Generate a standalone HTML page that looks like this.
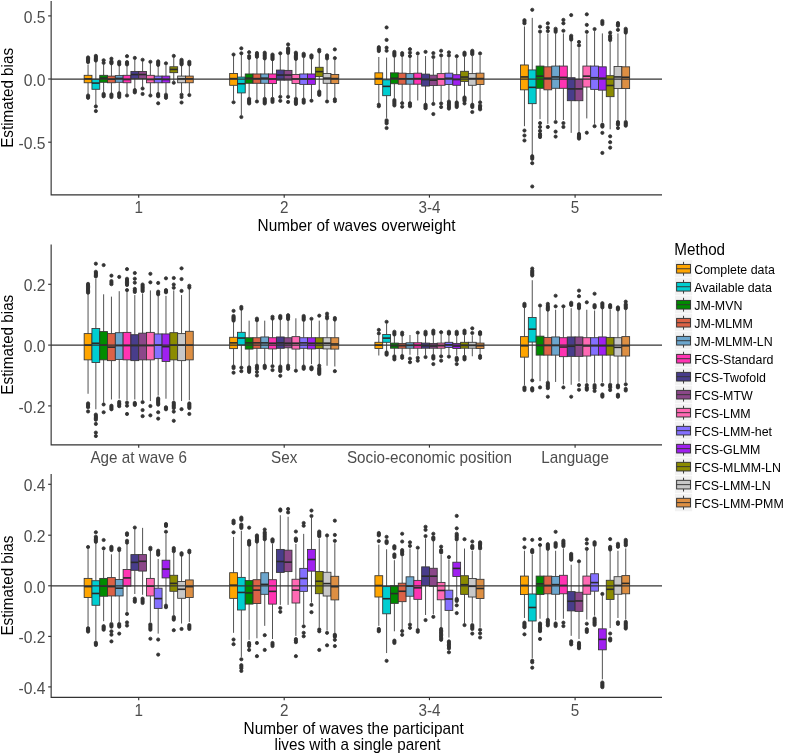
<!DOCTYPE html>
<html><head><meta charset="utf-8"><title>Estimated bias boxplots</title>
<style>
html,body{margin:0;padding:0;background:#fff}
svg{display:block}
text{font-family:"Liberation Sans",Arial,sans-serif}
.tk{font-size:16.6px;fill:#4d4d4d}
.ti{font-size:16.6px;fill:#000}
.lt{font-size:16.6px;fill:#000}
.lg{font-size:13.2px;fill:#000}
</style></head><body>
<svg width="785" height="755" viewBox="0 0 785 755">
<rect width="785" height="755" fill="#fff"/>
<g id="axes">
<path d="M51.15 1V194.85H662" fill="none" stroke="#333" stroke-width="1.15"/>
<path d="M48.15 15.9H51.15" stroke="#333" stroke-width="1.15"/>
<text transform="translate(45.5 22.8) scale(0.945 1)" text-anchor="end" class="tk">0.5</text>
<path d="M48.15 79H51.15" stroke="#333" stroke-width="1.15"/>
<text transform="translate(45.5 85.9) scale(0.945 1)" text-anchor="end" class="tk">0.0</text>
<path d="M48.15 142.2H51.15" stroke="#333" stroke-width="1.15"/>
<text transform="translate(45.5 149.1) scale(0.945 1)" text-anchor="end" class="tk">-0.5</text>
<path d="M138.7 194.85V197.65" stroke="#333" stroke-width="1.15"/>
<path d="M284.2 194.85V197.65" stroke="#333" stroke-width="1.15"/>
<path d="M429.45 194.85V197.65" stroke="#333" stroke-width="1.15"/>
<path d="M575.1 194.85V197.65" stroke="#333" stroke-width="1.15"/>
<text transform="translate(13 97.92) rotate(-90) scale(0.918 1)" text-anchor="middle" class="ti">Estimated bias</text>
<path d="M51.15 244.55V444.85H662" fill="none" stroke="#333" stroke-width="1.15"/>
<path d="M48.15 284.3H51.15" stroke="#333" stroke-width="1.15"/>
<text transform="translate(45.5 291.2) scale(0.945 1)" text-anchor="end" class="tk">0.2</text>
<path d="M48.15 345.1H51.15" stroke="#333" stroke-width="1.15"/>
<text transform="translate(45.5 352) scale(0.945 1)" text-anchor="end" class="tk">0.0</text>
<path d="M48.15 405.9H51.15" stroke="#333" stroke-width="1.15"/>
<text transform="translate(45.5 412.8) scale(0.945 1)" text-anchor="end" class="tk">-0.2</text>
<path d="M138.7 444.85V447.65" stroke="#333" stroke-width="1.15"/>
<path d="M284.2 444.85V447.65" stroke="#333" stroke-width="1.15"/>
<path d="M429.45 444.85V447.65" stroke="#333" stroke-width="1.15"/>
<path d="M575.1 444.85V447.65" stroke="#333" stroke-width="1.15"/>
<text transform="translate(13 344.7) rotate(-90) scale(0.918 1)" text-anchor="middle" class="ti">Estimated bias</text>
<path d="M51.15 473.9V697.4H662" fill="none" stroke="#333" stroke-width="1.15"/>
<path d="M48.15 484.3H51.15" stroke="#333" stroke-width="1.15"/>
<text transform="translate(45.5 491.2) scale(0.945 1)" text-anchor="end" class="tk">0.4</text>
<path d="M48.15 535.2H51.15" stroke="#333" stroke-width="1.15"/>
<text transform="translate(45.5 542.1) scale(0.945 1)" text-anchor="end" class="tk">0.2</text>
<path d="M48.15 585.8H51.15" stroke="#333" stroke-width="1.15"/>
<text transform="translate(45.5 592.7) scale(0.945 1)" text-anchor="end" class="tk">0.0</text>
<path d="M48.15 636.4H51.15" stroke="#333" stroke-width="1.15"/>
<text transform="translate(45.5 643.3) scale(0.945 1)" text-anchor="end" class="tk">-0.2</text>
<path d="M48.15 686.9H51.15" stroke="#333" stroke-width="1.15"/>
<text transform="translate(45.5 693.8) scale(0.945 1)" text-anchor="end" class="tk">-0.4</text>
<path d="M138.7 697.4V700.2" stroke="#333" stroke-width="1.15"/>
<path d="M284.2 697.4V700.2" stroke="#333" stroke-width="1.15"/>
<path d="M429.45 697.4V700.2" stroke="#333" stroke-width="1.15"/>
<path d="M575.1 697.4V700.2" stroke="#333" stroke-width="1.15"/>
<text transform="translate(13 585.65) rotate(-90) scale(0.918 1)" text-anchor="middle" class="ti">Estimated bias</text>
<text transform="translate(138.7 213.2) scale(0.918 1)" text-anchor="middle" class="tk">1</text>
<text transform="translate(138.7 715.6) scale(0.918 1)" text-anchor="middle" class="tk">1</text>
<text transform="translate(284.2 213.2) scale(0.918 1)" text-anchor="middle" class="tk">2</text>
<text transform="translate(284.2 715.6) scale(0.918 1)" text-anchor="middle" class="tk">2</text>
<text transform="translate(429.45 213.2) scale(0.918 1)" text-anchor="middle" class="tk">3-4</text>
<text transform="translate(429.45 715.6) scale(0.918 1)" text-anchor="middle" class="tk">3-4</text>
<text transform="translate(575.1 213.2) scale(0.918 1)" text-anchor="middle" class="tk">5</text>
<text transform="translate(575.1 715.6) scale(0.918 1)" text-anchor="middle" class="tk">5</text>
<text transform="translate(138.7 463.2) scale(0.918 1)" text-anchor="middle" class="tk">Age at wave 6</text>
<text transform="translate(284.2 463.2) scale(0.918 1)" text-anchor="middle" class="tk">Sex</text>
<text transform="translate(429.45 463.2) scale(0.918 1)" text-anchor="middle" class="tk">Socio-economic position</text>
<text transform="translate(575.1 463.2) scale(0.918 1)" text-anchor="middle" class="tk">Language</text>
<text transform="translate(356.57 231) scale(0.926 1)" text-anchor="middle" class="ti">Number of waves overweight</text>
<text transform="translate(353.7 733.5) scale(0.926 1)" text-anchor="middle" class="ti">Number of waves the participant</text>
<text transform="translate(357.5 749.7) scale(0.918 1)" text-anchor="middle" class="ti">lives with a single parent</text>
</g>
<g id="boxes" stroke="#333" stroke-width="0.85" fill="#333">
<circle cx="88.06" cy="57.43" r="1.6"/>
<circle cx="88.06" cy="58.6" r="1.6"/>
<circle cx="88.06" cy="59.77" r="1.6"/>
<circle cx="88.06" cy="60.93" r="1.6"/>
<circle cx="88.06" cy="62.1" r="1.6"/>
<circle cx="88.06" cy="95.51" r="1.6"/>
<circle cx="88.06" cy="96.68" r="1.6"/>
<circle cx="88.06" cy="97.84" r="1.6"/>
<path d="M88.06 64.43V75.31M88.06 82.77V94.42"/>
<rect x="84.16" y="75.31" width="7.79" height="7.46" fill="#FFA500"/>
<path d="M84.16 78.88H91.95" stroke="#2a2a2a" stroke-width="1.6"/>
<circle cx="95.85" cy="55.88" r="1.6"/>
<circle cx="95.85" cy="57.05" r="1.6"/>
<circle cx="95.85" cy="58.21" r="1.6"/>
<circle cx="95.85" cy="59.38" r="1.6"/>
<circle cx="95.85" cy="60.54" r="1.6"/>
<circle cx="95.85" cy="106.39" r="1.6"/>
<circle cx="95.85" cy="111.06" r="1.6"/>
<path d="M95.85 62.1V79.19M95.85 89.3V104.84"/>
<rect x="91.95" y="79.19" width="7.79" height="10.1" fill="#00CED1"/>
<path d="M91.95 83.08H99.74" stroke="#2a2a2a" stroke-width="1.6"/>
<circle cx="103.64" cy="60.23" r="1.6"/>
<circle cx="103.64" cy="62.87" r="1.6"/>
<circle cx="103.64" cy="93.96" r="1.6"/>
<circle cx="103.64" cy="95.12" r="1.6"/>
<circle cx="103.64" cy="96.29" r="1.6"/>
<path d="M103.64 64.43V75.31M103.64 82.3V92.4"/>
<rect x="99.74" y="75.31" width="7.79" height="6.99" fill="#008B00"/>
<path d="M99.74 78.11H107.53" stroke="#2a2a2a" stroke-width="1.6"/>
<circle cx="111.43" cy="58.68" r="1.6"/>
<circle cx="111.43" cy="61.32" r="1.6"/>
<circle cx="111.43" cy="62.33" r="1.6"/>
<circle cx="111.43" cy="63.34" r="1.6"/>
<circle cx="111.43" cy="94.42" r="1.6"/>
<circle cx="111.43" cy="95.75" r="1.6"/>
<circle cx="111.43" cy="97.07" r="1.6"/>
<path d="M111.43 64.43V76.08M111.43 82.77V93.18"/>
<rect x="107.53" y="76.08" width="7.79" height="6.68" fill="#DC6246"/>
<path d="M107.53 79.19H115.33" stroke="#2a2a2a" stroke-width="1.6"/>
<circle cx="119.22" cy="61.79" r="1.6"/>
<circle cx="119.22" cy="63.11" r="1.6"/>
<circle cx="119.22" cy="64.43" r="1.6"/>
<circle cx="119.22" cy="93.18" r="1.6"/>
<circle cx="119.22" cy="94.48" r="1.6"/>
<circle cx="119.22" cy="95.77" r="1.6"/>
<circle cx="119.22" cy="97.07" r="1.6"/>
<path d="M119.22 65.21V75.62M119.22 82.3V91.63"/>
<rect x="115.33" y="75.62" width="7.79" height="6.68" fill="#6CA6CD"/>
<path d="M115.33 78.42H123.12" stroke="#2a2a2a" stroke-width="1.6"/>
<circle cx="127.01" cy="56.19" r="1.6"/>
<circle cx="127.01" cy="62.1" r="1.6"/>
<circle cx="127.01" cy="63.26" r="1.6"/>
<circle cx="127.01" cy="64.43" r="1.6"/>
<circle cx="127.01" cy="95.51" r="1.6"/>
<path d="M127.01 65.21V75.31M127.01 82.77V93.96"/>
<rect x="123.12" y="75.31" width="7.79" height="7.46" fill="#FF34B3"/>
<path d="M123.12 79.5H130.91" stroke="#2a2a2a" stroke-width="1.6"/>
<circle cx="134.8" cy="57.9" r="1.6"/>
<circle cx="134.8" cy="90.07" r="1.6"/>
<circle cx="134.8" cy="91.24" r="1.6"/>
<circle cx="134.8" cy="92.4" r="1.6"/>
<path d="M134.8 59.77V71.42M134.8 78.42V89.3"/>
<rect x="130.91" y="71.42" width="7.79" height="6.99" fill="#483D8B"/>
<path d="M130.91 74.53H138.7" stroke="#2a2a2a" stroke-width="1.6"/>
<circle cx="142.6" cy="59.77" r="1.6"/>
<circle cx="142.6" cy="88.52" r="1.6"/>
<circle cx="142.6" cy="93.96" r="1.6"/>
<path d="M142.6 61.32V71.42M142.6 78.42V86.96"/>
<rect x="138.7" y="71.42" width="7.79" height="6.99" fill="#8B4789"/>
<path d="M138.7 74.53H146.49" stroke="#2a2a2a" stroke-width="1.6"/>
<circle cx="150.39" cy="61.79" r="1.6"/>
<circle cx="150.39" cy="95.51" r="1.6"/>
<path d="M150.39 63.34V75.31M150.39 82.77V93.96"/>
<rect x="146.49" y="75.31" width="7.79" height="7.46" fill="#FF69B4"/>
<path d="M146.49 79.5H154.28" stroke="#2a2a2a" stroke-width="1.6"/>
<circle cx="158.18" cy="61.32" r="1.6"/>
<circle cx="158.18" cy="62.51" r="1.6"/>
<circle cx="158.18" cy="63.7" r="1.6"/>
<circle cx="158.18" cy="64.89" r="1.6"/>
<circle cx="158.18" cy="93.96" r="1.6"/>
<circle cx="158.18" cy="95.12" r="1.6"/>
<circle cx="158.18" cy="96.29" r="1.6"/>
<circle cx="158.18" cy="103.28" r="1.6"/>
<path d="M158.18 65.98V76.08M158.18 82.77V92.4"/>
<rect x="154.28" y="76.08" width="7.79" height="6.68" fill="#8470FF"/>
<path d="M154.28 79.19H162.07" stroke="#2a2a2a" stroke-width="1.6"/>
<circle cx="165.97" cy="63.34" r="1.6"/>
<circle cx="165.97" cy="94.74" r="1.6"/>
<circle cx="165.97" cy="96.29" r="1.6"/>
<circle cx="165.97" cy="97.84" r="1.6"/>
<path d="M165.97 65.21V76.08M165.97 82.77V93.18"/>
<rect x="162.07" y="76.08" width="7.79" height="6.68" fill="#A020F0"/>
<path d="M162.07 79.5H169.87" stroke="#2a2a2a" stroke-width="1.6"/>
<circle cx="173.76" cy="55.88" r="1.6"/>
<circle cx="173.76" cy="82.77" r="1.6"/>
<path d="M173.76 57.43V66.76M173.76 72.67V81.06"/>
<rect x="169.87" y="66.76" width="7.79" height="5.91" fill="#8B8B00"/>
<path d="M169.87 69.4H177.66" stroke="#2a2a2a" stroke-width="1.6"/>
<circle cx="181.55" cy="59.77" r="1.6"/>
<circle cx="181.55" cy="60.93" r="1.6"/>
<circle cx="181.55" cy="62.1" r="1.6"/>
<circle cx="181.55" cy="63.26" r="1.6"/>
<circle cx="181.55" cy="64.43" r="1.6"/>
<circle cx="181.55" cy="94.74" r="1.6"/>
<circle cx="181.55" cy="97.07" r="1.6"/>
<circle cx="181.55" cy="102.51" r="1.6"/>
<path d="M181.55 65.21V76.08M181.55 82.77V93.18"/>
<rect x="177.66" y="76.08" width="7.79" height="6.68" fill="#C8C8C8"/>
<path d="M177.66 78.88H185.45" stroke="#2a2a2a" stroke-width="1.6"/>
<circle cx="189.34" cy="61.79" r="1.6"/>
<circle cx="189.34" cy="63.11" r="1.6"/>
<circle cx="189.34" cy="64.43" r="1.6"/>
<circle cx="189.34" cy="95.05" r="1.6"/>
<path d="M189.34 65.98V76.08M189.34 82.77V93.49"/>
<rect x="185.45" y="76.08" width="7.79" height="6.68" fill="#DD8F43"/>
<path d="M185.45 78.88H193.24" stroke="#2a2a2a" stroke-width="1.6"/>
<circle cx="233.56" cy="54.53" r="1.6"/>
<circle cx="233.56" cy="102.25" r="1.6"/>
<path d="M233.56 56.08V73.49M233.56 85.3V100.38"/>
<rect x="229.66" y="73.49" width="7.79" height="11.81" fill="#FFA500"/>
<path d="M229.66 78.62H237.45" stroke="#2a2a2a" stroke-width="1.6"/>
<circle cx="241.35" cy="48.31" r="1.6"/>
<circle cx="241.35" cy="53.29" r="1.6"/>
<circle cx="241.35" cy="117.01" r="1.6"/>
<path d="M241.35 54.53V77.07M241.35 92.92V115.15"/>
<rect x="237.45" y="77.07" width="7.79" height="15.85" fill="#00CED1"/>
<path d="M237.45 83.75H245.24" stroke="#2a2a2a" stroke-width="1.6"/>
<circle cx="249.14" cy="52.2" r="1.6"/>
<circle cx="249.14" cy="56.08" r="1.6"/>
<circle cx="249.14" cy="57.95" r="1.6"/>
<circle cx="249.14" cy="98.83" r="1.6"/>
<circle cx="249.14" cy="99.99" r="1.6"/>
<circle cx="249.14" cy="101.16" r="1.6"/>
<circle cx="249.14" cy="102.32" r="1.6"/>
<circle cx="249.14" cy="103.49" r="1.6"/>
<path d="M249.14 58.42V73.96M249.14 83.28V97.27"/>
<rect x="245.24" y="73.96" width="7.79" height="9.33" fill="#008B00"/>
<path d="M245.24 78.16H253.03" stroke="#2a2a2a" stroke-width="1.6"/>
<circle cx="256.93" cy="52.98" r="1.6"/>
<circle cx="256.93" cy="54.27" r="1.6"/>
<circle cx="256.93" cy="55.57" r="1.6"/>
<circle cx="256.93" cy="56.86" r="1.6"/>
<circle cx="256.93" cy="101.47" r="1.6"/>
<path d="M256.93 58.42V73.96M256.93 83.28V99.6"/>
<rect x="253.03" y="73.96" width="7.79" height="9.33" fill="#DC6246"/>
<path d="M253.03 78.62H260.83" stroke="#2a2a2a" stroke-width="1.6"/>
<circle cx="264.72" cy="52.67" r="1.6"/>
<circle cx="264.72" cy="54.1" r="1.6"/>
<circle cx="264.72" cy="55.54" r="1.6"/>
<circle cx="264.72" cy="56.98" r="1.6"/>
<circle cx="264.72" cy="58.42" r="1.6"/>
<circle cx="264.72" cy="98.83" r="1.6"/>
<circle cx="264.72" cy="99.99" r="1.6"/>
<circle cx="264.72" cy="101.16" r="1.6"/>
<circle cx="264.72" cy="102.32" r="1.6"/>
<circle cx="264.72" cy="103.49" r="1.6"/>
<path d="M264.72 59.19V73.96M264.72 83.28V97.27"/>
<rect x="260.83" y="73.96" width="7.79" height="9.33" fill="#6CA6CD"/>
<path d="M260.83 78.16H268.62" stroke="#2a2a2a" stroke-width="1.6"/>
<circle cx="272.51" cy="54.53" r="1.6"/>
<circle cx="272.51" cy="55.7" r="1.6"/>
<circle cx="272.51" cy="56.86" r="1.6"/>
<circle cx="272.51" cy="58.03" r="1.6"/>
<circle cx="272.51" cy="59.19" r="1.6"/>
<circle cx="272.51" cy="98.83" r="1.6"/>
<circle cx="272.51" cy="100.38" r="1.6"/>
<circle cx="272.51" cy="101.94" r="1.6"/>
<path d="M272.51 59.97V73.96M272.51 83.59V97.27"/>
<rect x="268.62" y="73.96" width="7.79" height="9.64" fill="#FF34B3"/>
<path d="M268.62 78.93H276.41" stroke="#2a2a2a" stroke-width="1.6"/>
<circle cx="280.3" cy="53.29" r="1.6"/>
<circle cx="280.3" cy="96.81" r="1.6"/>
<circle cx="280.3" cy="100.85" r="1.6"/>
<path d="M280.3 54.84V70.07M280.3 80.18V94.94"/>
<rect x="276.41" y="70.07" width="7.79" height="10.1" fill="#483D8B"/>
<path d="M276.41 75.05H284.2" stroke="#2a2a2a" stroke-width="1.6"/>
<circle cx="288.1" cy="44.43" r="1.6"/>
<circle cx="288.1" cy="48.31" r="1.6"/>
<circle cx="288.1" cy="49.48" r="1.6"/>
<circle cx="288.1" cy="50.65" r="1.6"/>
<circle cx="288.1" cy="51.81" r="1.6"/>
<circle cx="288.1" cy="52.98" r="1.6"/>
<circle cx="288.1" cy="96.81" r="1.6"/>
<circle cx="288.1" cy="101.94" r="1.6"/>
<path d="M288.1 54.53V70.38M288.1 80.18V94.94"/>
<rect x="284.2" y="70.38" width="7.79" height="9.79" fill="#8B4789"/>
<path d="M284.2 75.05H291.99" stroke="#2a2a2a" stroke-width="1.6"/>
<circle cx="295.89" cy="52.67" r="1.6"/>
<circle cx="295.89" cy="53.91" r="1.6"/>
<circle cx="295.89" cy="55.15" r="1.6"/>
<circle cx="295.89" cy="56.4" r="1.6"/>
<circle cx="295.89" cy="57.64" r="1.6"/>
<circle cx="295.89" cy="58.88" r="1.6"/>
<circle cx="295.89" cy="98.83" r="1.6"/>
<circle cx="295.89" cy="100.11" r="1.6"/>
<circle cx="295.89" cy="101.39" r="1.6"/>
<circle cx="295.89" cy="102.67" r="1.6"/>
<circle cx="295.89" cy="103.96" r="1.6"/>
<path d="M295.89 59.97V74.42M295.89 83.59V97.27"/>
<rect x="291.99" y="74.42" width="7.79" height="9.17" fill="#FF69B4"/>
<path d="M291.99 78.93H299.78" stroke="#2a2a2a" stroke-width="1.6"/>
<circle cx="303.68" cy="53.75" r="1.6"/>
<circle cx="303.68" cy="54.92" r="1.6"/>
<circle cx="303.68" cy="56.08" r="1.6"/>
<circle cx="303.68" cy="99.6" r="1.6"/>
<circle cx="303.68" cy="101.16" r="1.6"/>
<circle cx="303.68" cy="102.71" r="1.6"/>
<path d="M303.68 57.64V73.96M303.68 84.37V98.05"/>
<rect x="299.78" y="73.96" width="7.79" height="10.41" fill="#8470FF"/>
<path d="M299.78 78.93H307.57" stroke="#2a2a2a" stroke-width="1.6"/>
<circle cx="311.47" cy="55.31" r="1.6"/>
<circle cx="311.47" cy="56.47" r="1.6"/>
<circle cx="311.47" cy="57.64" r="1.6"/>
<circle cx="311.47" cy="100.69" r="1.6"/>
<path d="M311.47 59.19V73.96M311.47 84.37V98.83"/>
<rect x="307.57" y="73.96" width="7.79" height="10.41" fill="#A020F0"/>
<path d="M307.57 78.93H315.37" stroke="#2a2a2a" stroke-width="1.6"/>
<circle cx="319.26" cy="49.87" r="1.6"/>
<circle cx="319.26" cy="51.42" r="1.6"/>
<circle cx="319.26" cy="91.52" r="1.6"/>
<circle cx="319.26" cy="92.66" r="1.6"/>
<circle cx="319.26" cy="93.8" r="1.6"/>
<circle cx="319.26" cy="94.94" r="1.6"/>
<path d="M319.26 52.98V67.28M319.26 76.6V90.28"/>
<rect x="315.37" y="67.28" width="7.79" height="9.33" fill="#8B8B00"/>
<path d="M315.37 71.63H323.16" stroke="#2a2a2a" stroke-width="1.6"/>
<circle cx="327.05" cy="55.31" r="1.6"/>
<circle cx="327.05" cy="56.86" r="1.6"/>
<circle cx="327.05" cy="58.42" r="1.6"/>
<circle cx="327.05" cy="101.47" r="1.6"/>
<path d="M327.05 59.97V73.49M327.05 83.28V99.6"/>
<rect x="323.16" y="73.49" width="7.79" height="9.79" fill="#C8C8C8"/>
<path d="M323.16 78.16H330.95" stroke="#2a2a2a" stroke-width="1.6"/>
<circle cx="334.84" cy="49.4" r="1.6"/>
<circle cx="334.84" cy="58.11" r="1.6"/>
<circle cx="334.84" cy="99.29" r="1.6"/>
<circle cx="334.84" cy="101.16" r="1.6"/>
<path d="M334.84 59.97V74.42M334.84 83.59V98.05"/>
<rect x="330.95" y="74.42" width="7.79" height="9.17" fill="#DD8F43"/>
<path d="M330.95 78.62H338.74" stroke="#2a2a2a" stroke-width="1.6"/>
<circle cx="378.81" cy="47.2" r="1.6"/>
<circle cx="378.81" cy="48.49" r="1.6"/>
<circle cx="378.81" cy="49.79" r="1.6"/>
<circle cx="378.81" cy="51.08" r="1.6"/>
<circle cx="378.81" cy="104.71" r="1.6"/>
<circle cx="378.81" cy="106.26" r="1.6"/>
<path d="M378.81 56.99V72.84M378.81 84.5V103.15"/>
<rect x="374.91" y="72.84" width="7.79" height="11.66" fill="#FFA500"/>
<path d="M374.91 78.59H382.7" stroke="#2a2a2a" stroke-width="1.6"/>
<circle cx="386.6" cy="27.46" r="1.6"/>
<circle cx="386.6" cy="39.89" r="1.6"/>
<circle cx="386.6" cy="47.67" r="1.6"/>
<circle cx="386.6" cy="50.77" r="1.6"/>
<circle cx="386.6" cy="120.25" r="1.6"/>
<circle cx="386.6" cy="121.8" r="1.6"/>
<circle cx="386.6" cy="123.36" r="1.6"/>
<circle cx="386.6" cy="128.02" r="1.6"/>
<path d="M386.6 57.61V79.84M386.6 95.69V117.92"/>
<rect x="382.7" y="79.84" width="7.79" height="15.85" fill="#00CED1"/>
<path d="M382.7 86.37H390.49" stroke="#2a2a2a" stroke-width="1.6"/>
<circle cx="394.39" cy="51.86" r="1.6"/>
<circle cx="394.39" cy="53.16" r="1.6"/>
<circle cx="394.39" cy="54.45" r="1.6"/>
<circle cx="394.39" cy="55.75" r="1.6"/>
<circle cx="394.39" cy="100.04" r="1.6"/>
<circle cx="394.39" cy="101.4" r="1.6"/>
<circle cx="394.39" cy="102.76" r="1.6"/>
<circle cx="394.39" cy="104.12" r="1.6"/>
<circle cx="394.39" cy="105.48" r="1.6"/>
<path d="M394.39 57.3V72.84M394.39 83.72V98.49"/>
<rect x="390.49" y="72.84" width="7.79" height="10.88" fill="#008B00"/>
<path d="M390.49 78.28H398.28" stroke="#2a2a2a" stroke-width="1.6"/>
<circle cx="402.18" cy="53.11" r="1.6"/>
<circle cx="402.18" cy="54.97" r="1.6"/>
<circle cx="402.18" cy="103.15" r="1.6"/>
<circle cx="402.18" cy="106.73" r="1.6"/>
<path d="M402.18 56.52V73.16M402.18 84.19V101.6"/>
<rect x="398.28" y="73.16" width="7.79" height="11.04" fill="#DC6246"/>
<path d="M398.28 78.75H406.08" stroke="#2a2a2a" stroke-width="1.6"/>
<circle cx="409.97" cy="49.22" r="1.6"/>
<circle cx="409.97" cy="52.64" r="1.6"/>
<circle cx="409.97" cy="56.06" r="1.6"/>
<circle cx="409.97" cy="103.15" r="1.6"/>
<circle cx="409.97" cy="104.71" r="1.6"/>
<circle cx="409.97" cy="106.26" r="1.6"/>
<path d="M409.97 57.3V73.62M409.97 84.19V101.6"/>
<rect x="406.08" y="73.62" width="7.79" height="10.57" fill="#6CA6CD"/>
<path d="M406.08 78.75H413.87" stroke="#2a2a2a" stroke-width="1.6"/>
<circle cx="417.76" cy="53.42" r="1.6"/>
<path d="M417.76 55.44V73.16M417.76 84.19V100.51"/>
<rect x="413.87" y="73.16" width="7.79" height="11.04" fill="#FF34B3"/>
<path d="M413.87 78.59H421.66" stroke="#2a2a2a" stroke-width="1.6"/>
<circle cx="425.55" cy="51.86" r="1.6"/>
<circle cx="425.55" cy="104.71" r="1.6"/>
<circle cx="425.55" cy="105.9" r="1.6"/>
<circle cx="425.55" cy="107.09" r="1.6"/>
<circle cx="425.55" cy="108.28" r="1.6"/>
<path d="M425.55 56.06V74.09M425.55 86.06V103.15"/>
<rect x="421.66" y="74.09" width="7.79" height="11.97" fill="#483D8B"/>
<path d="M421.66 79.53H429.45" stroke="#2a2a2a" stroke-width="1.6"/>
<circle cx="433.35" cy="53.11" r="1.6"/>
<circle cx="433.35" cy="56.99" r="1.6"/>
<circle cx="433.35" cy="103.93" r="1.6"/>
<circle cx="433.35" cy="114.03" r="1.6"/>
<path d="M433.35 58.86V75.18M433.35 85.59V102.37"/>
<rect x="429.45" y="75.18" width="7.79" height="10.41" fill="#8B4789"/>
<path d="M429.45 80.15H437.24" stroke="#2a2a2a" stroke-width="1.6"/>
<circle cx="441.14" cy="50.77" r="1.6"/>
<circle cx="441.14" cy="55.44" r="1.6"/>
<circle cx="441.14" cy="103.46" r="1.6"/>
<circle cx="441.14" cy="107.04" r="1.6"/>
<path d="M441.14 57.3V73.62M441.14 85.28V101.6"/>
<rect x="437.24" y="73.62" width="7.79" height="11.66" fill="#FF69B4"/>
<path d="M437.24 79.06H445.03" stroke="#2a2a2a" stroke-width="1.6"/>
<circle cx="448.93" cy="52.33" r="1.6"/>
<circle cx="448.93" cy="55.44" r="1.6"/>
<circle cx="448.93" cy="101.6" r="1.6"/>
<circle cx="448.93" cy="103" r="1.6"/>
<circle cx="448.93" cy="104.4" r="1.6"/>
<circle cx="448.93" cy="105.79" r="1.6"/>
<circle cx="448.93" cy="107.19" r="1.6"/>
<circle cx="448.93" cy="108.59" r="1.6"/>
<path d="M448.93 57.3V73.16M448.93 84.5V100.04"/>
<rect x="445.03" y="73.16" width="7.79" height="11.35" fill="#8470FF"/>
<path d="M445.03 78.28H452.82" stroke="#2a2a2a" stroke-width="1.6"/>
<circle cx="456.72" cy="56.21" r="1.6"/>
<circle cx="456.72" cy="102.37" r="1.6"/>
<circle cx="456.72" cy="103.54" r="1.6"/>
<circle cx="456.72" cy="104.71" r="1.6"/>
<circle cx="456.72" cy="105.87" r="1.6"/>
<circle cx="456.72" cy="107.04" r="1.6"/>
<path d="M456.72 58.08V74.71M456.72 85.28V100.82"/>
<rect x="452.82" y="74.71" width="7.79" height="10.57" fill="#A020F0"/>
<path d="M452.82 79.53H460.62" stroke="#2a2a2a" stroke-width="1.6"/>
<circle cx="464.51" cy="52.64" r="1.6"/>
<circle cx="464.51" cy="53.8" r="1.6"/>
<circle cx="464.51" cy="54.97" r="1.6"/>
<circle cx="464.51" cy="97.4" r="1.6"/>
<circle cx="464.51" cy="98.54" r="1.6"/>
<circle cx="464.51" cy="99.68" r="1.6"/>
<circle cx="464.51" cy="100.82" r="1.6"/>
<circle cx="464.51" cy="103.46" r="1.6"/>
<path d="M464.51 56.52V71.29M464.51 81.39V96.16"/>
<rect x="460.62" y="71.29" width="7.79" height="10.1" fill="#8B8B00"/>
<path d="M460.62 77.04H468.41" stroke="#2a2a2a" stroke-width="1.6"/>
<circle cx="472.3" cy="50.77" r="1.6"/>
<circle cx="472.3" cy="51.91" r="1.6"/>
<circle cx="472.3" cy="53.05" r="1.6"/>
<circle cx="472.3" cy="54.19" r="1.6"/>
<circle cx="472.3" cy="104.71" r="1.6"/>
<circle cx="472.3" cy="105.87" r="1.6"/>
<circle cx="472.3" cy="107.04" r="1.6"/>
<circle cx="472.3" cy="112.01" r="1.6"/>
<path d="M472.3 55.75V73.62M472.3 85.28V103.15"/>
<rect x="468.41" y="73.62" width="7.79" height="11.66" fill="#C8C8C8"/>
<path d="M468.41 78.59H476.2" stroke="#2a2a2a" stroke-width="1.6"/>
<circle cx="480.09" cy="53.42" r="1.6"/>
<circle cx="480.09" cy="102.37" r="1.6"/>
<circle cx="480.09" cy="105.48" r="1.6"/>
<circle cx="480.09" cy="106.78" r="1.6"/>
<circle cx="480.09" cy="108.07" r="1.6"/>
<circle cx="480.09" cy="109.37" r="1.6"/>
<path d="M480.09 55.44V73.16M480.09 84.5V100.82"/>
<rect x="476.2" y="73.16" width="7.79" height="11.35" fill="#DD8F43"/>
<path d="M476.2 78.59H483.99" stroke="#2a2a2a" stroke-width="1.6"/>
<circle cx="524.46" cy="20.21" r="1.6"/>
<circle cx="524.46" cy="21.76" r="1.6"/>
<circle cx="524.46" cy="23.31" r="1.6"/>
<circle cx="524.46" cy="130.54" r="1.6"/>
<circle cx="524.46" cy="135.51" r="1.6"/>
<circle cx="524.46" cy="140.49" r="1.6"/>
<path d="M524.46 26.42V64.97M524.46 89.84V126.19"/>
<rect x="520.56" y="64.97" width="7.79" height="24.87" fill="#FFA500"/>
<path d="M520.56 76.94H528.35" stroke="#2a2a2a" stroke-width="1.6"/>
<circle cx="532.25" cy="9.79" r="1.6"/>
<circle cx="532.25" cy="156.18" r="1.6"/>
<circle cx="532.25" cy="157.51" r="1.6"/>
<circle cx="532.25" cy="158.83" r="1.6"/>
<circle cx="532.25" cy="163.18" r="1.6"/>
<circle cx="532.25" cy="186.49" r="1.6"/>
<path d="M532.25 17.87V69.94M532.25 103.67V154.94"/>
<rect x="528.35" y="69.94" width="7.79" height="33.73" fill="#00CED1"/>
<path d="M528.35 87.35H536.14" stroke="#2a2a2a" stroke-width="1.6"/>
<circle cx="540.04" cy="26.73" r="1.6"/>
<circle cx="540.04" cy="31.55" r="1.6"/>
<circle cx="540.04" cy="123.08" r="1.6"/>
<circle cx="540.04" cy="126.96" r="1.6"/>
<circle cx="540.04" cy="130.85" r="1.6"/>
<circle cx="540.04" cy="133.96" r="1.6"/>
<circle cx="540.04" cy="135.51" r="1.6"/>
<circle cx="540.04" cy="137.07" r="1.6"/>
<path d="M540.04 33.42V66.06M540.04 88.28V119.19"/>
<rect x="536.14" y="66.06" width="7.79" height="22.23" fill="#008B00"/>
<path d="M536.14 76.16H543.93" stroke="#2a2a2a" stroke-width="1.6"/>
<circle cx="547.83" cy="23.31" r="1.6"/>
<circle cx="547.83" cy="27.67" r="1.6"/>
<circle cx="547.83" cy="31.08" r="1.6"/>
<circle cx="547.83" cy="126.96" r="1.6"/>
<path d="M547.83 33.42V66.83M547.83 89.84V123.86"/>
<rect x="543.93" y="66.83" width="7.79" height="23" fill="#DC6246"/>
<path d="M543.93 78.18H551.73" stroke="#2a2a2a" stroke-width="1.6"/>
<circle cx="555.62" cy="28.75" r="1.6"/>
<circle cx="555.62" cy="30.31" r="1.6"/>
<circle cx="555.62" cy="31.86" r="1.6"/>
<circle cx="555.62" cy="121.99" r="1.6"/>
<circle cx="555.62" cy="131.63" r="1.6"/>
<circle cx="555.62" cy="136.6" r="1.6"/>
<path d="M555.62 33.42V66.06M555.62 88.28V119.97"/>
<rect x="551.73" y="66.06" width="7.79" height="22.23" fill="#6CA6CD"/>
<path d="M551.73 76.94H559.52" stroke="#2a2a2a" stroke-width="1.6"/>
<circle cx="563.41" cy="19.89" r="1.6"/>
<circle cx="563.41" cy="23.31" r="1.6"/>
<circle cx="563.41" cy="30.77" r="1.6"/>
<circle cx="563.41" cy="123.08" r="1.6"/>
<circle cx="563.41" cy="126.96" r="1.6"/>
<path d="M563.41 33.42V66.06M563.41 88.28V119.97"/>
<rect x="559.52" y="66.06" width="7.79" height="22.23" fill="#FF34B3"/>
<path d="M559.52 77.4H567.31" stroke="#2a2a2a" stroke-width="1.6"/>
<circle cx="571.2" cy="15.08" r="1.6"/>
<circle cx="571.2" cy="35.75" r="1.6"/>
<circle cx="571.2" cy="37.04" r="1.6"/>
<circle cx="571.2" cy="38.34" r="1.6"/>
<circle cx="571.2" cy="39.63" r="1.6"/>
<path d="M571.2 41.19V77.71M571.2 100.71V132.87"/>
<rect x="567.31" y="77.71" width="7.79" height="23" fill="#483D8B"/>
<path d="M567.31 88.9H575.1" stroke="#2a2a2a" stroke-width="1.6"/>
<circle cx="579" cy="41.96" r="1.6"/>
<circle cx="579" cy="45.38" r="1.6"/>
<circle cx="579" cy="133.96" r="1.6"/>
<circle cx="579" cy="135.12" r="1.6"/>
<circle cx="579" cy="136.29" r="1.6"/>
<circle cx="579" cy="137.46" r="1.6"/>
<circle cx="579" cy="138.62" r="1.6"/>
<path d="M579 47.4V79.27M579 100.71V132.4"/>
<rect x="575.1" y="79.27" width="7.79" height="21.45" fill="#8B4789"/>
<path d="M575.1 88.9H582.89" stroke="#2a2a2a" stroke-width="1.6"/>
<circle cx="586.79" cy="14.3" r="1.6"/>
<circle cx="586.79" cy="24.87" r="1.6"/>
<circle cx="586.79" cy="31.86" r="1.6"/>
<circle cx="586.79" cy="132.72" r="1.6"/>
<path d="M586.79 34.19V66.06M586.79 87.04V118.42"/>
<rect x="582.89" y="66.06" width="7.79" height="20.98" fill="#FF69B4"/>
<path d="M582.89 76.16H590.68" stroke="#2a2a2a" stroke-width="1.6"/>
<circle cx="594.58" cy="29.06" r="1.6"/>
<circle cx="594.58" cy="126.19" r="1.6"/>
<path d="M594.58 31.08V66.06M594.58 89.37V123.86"/>
<rect x="590.68" y="66.06" width="7.79" height="23.31" fill="#8470FF"/>
<path d="M590.68 77.71H598.47" stroke="#2a2a2a" stroke-width="1.6"/>
<circle cx="602.37" cy="20.98" r="1.6"/>
<circle cx="602.37" cy="22.54" r="1.6"/>
<circle cx="602.37" cy="24.09" r="1.6"/>
<circle cx="602.37" cy="124.63" r="1.6"/>
<circle cx="602.37" cy="125.64" r="1.6"/>
<circle cx="602.37" cy="126.65" r="1.6"/>
<circle cx="602.37" cy="132.87" r="1.6"/>
<circle cx="602.37" cy="152.92" r="1.6"/>
<path d="M602.37 33.42V66.83M602.37 90.15V122.3"/>
<rect x="598.47" y="66.83" width="7.79" height="23.31" fill="#A020F0"/>
<path d="M598.47 78.18H606.27" stroke="#2a2a2a" stroke-width="1.6"/>
<circle cx="610.16" cy="32.64" r="1.6"/>
<circle cx="610.16" cy="35.75" r="1.6"/>
<circle cx="610.16" cy="37.2" r="1.6"/>
<circle cx="610.16" cy="38.65" r="1.6"/>
<circle cx="610.16" cy="40.1" r="1.6"/>
<circle cx="610.16" cy="136.29" r="1.6"/>
<circle cx="610.16" cy="142.2" r="1.6"/>
<circle cx="610.16" cy="147.64" r="1.6"/>
<path d="M610.16 41.96V75.69M610.16 96.67V129.3"/>
<rect x="606.27" y="75.69" width="7.79" height="20.98" fill="#8B8B00"/>
<path d="M606.27 85.48H614.06" stroke="#2a2a2a" stroke-width="1.6"/>
<circle cx="617.95" cy="23" r="1.6"/>
<circle cx="617.95" cy="24.32" r="1.6"/>
<circle cx="617.95" cy="25.65" r="1.6"/>
<circle cx="617.95" cy="29.84" r="1.6"/>
<circle cx="617.95" cy="121.99" r="1.6"/>
<circle cx="617.95" cy="123.31" r="1.6"/>
<circle cx="617.95" cy="124.63" r="1.6"/>
<circle cx="617.95" cy="128.05" r="1.6"/>
<path d="M617.95 33.42V66.52M617.95 88.59V119.97"/>
<rect x="614.06" y="66.52" width="7.79" height="22.07" fill="#C8C8C8"/>
<path d="M614.06 76.94H621.85" stroke="#2a2a2a" stroke-width="1.6"/>
<circle cx="625.74" cy="28.75" r="1.6"/>
<circle cx="625.74" cy="30.05" r="1.6"/>
<circle cx="625.74" cy="31.34" r="1.6"/>
<circle cx="625.74" cy="32.64" r="1.6"/>
<circle cx="625.74" cy="121.99" r="1.6"/>
<circle cx="625.74" cy="123.23" r="1.6"/>
<circle cx="625.74" cy="124.48" r="1.6"/>
<circle cx="625.74" cy="125.72" r="1.6"/>
<path d="M625.74 34.19V66.83M625.74 88.59V119.97"/>
<rect x="621.85" y="66.83" width="7.79" height="21.76" fill="#DD8F43"/>
<path d="M621.85 77.25H629.64" stroke="#2a2a2a" stroke-width="1.6"/>
<circle cx="88.06" cy="283.88" r="1.6"/>
<circle cx="88.06" cy="285.15" r="1.6"/>
<circle cx="88.06" cy="286.41" r="1.6"/>
<circle cx="88.06" cy="287.68" r="1.6"/>
<circle cx="88.06" cy="288.94" r="1.6"/>
<circle cx="88.06" cy="290.21" r="1.6"/>
<circle cx="88.06" cy="291.48" r="1.6"/>
<circle cx="88.06" cy="292.74" r="1.6"/>
<circle cx="88.06" cy="403.39" r="1.6"/>
<circle cx="88.06" cy="404.68" r="1.6"/>
<circle cx="88.06" cy="405.98" r="1.6"/>
<circle cx="88.06" cy="407.27" r="1.6"/>
<circle cx="88.06" cy="411.47" r="1.6"/>
<path d="M88.06 294.3V333.62M88.06 359.87V393.75"/>
<rect x="84.16" y="333.62" width="7.79" height="26.25" fill="#FFA500"/>
<path d="M84.16 345.12H91.95" stroke="#2a2a2a" stroke-width="1.6"/>
<circle cx="95.85" cy="263.68" r="1.6"/>
<circle cx="95.85" cy="271.76" r="1.6"/>
<circle cx="95.85" cy="272.93" r="1.6"/>
<circle cx="95.85" cy="274.09" r="1.6"/>
<circle cx="95.85" cy="275.26" r="1.6"/>
<circle cx="95.85" cy="276.42" r="1.6"/>
<circle cx="95.85" cy="414.58" r="1.6"/>
<circle cx="95.85" cy="415.86" r="1.6"/>
<circle cx="95.85" cy="417.14" r="1.6"/>
<circle cx="95.85" cy="418.42" r="1.6"/>
<circle cx="95.85" cy="419.71" r="1.6"/>
<circle cx="95.85" cy="423.9" r="1.6"/>
<circle cx="95.85" cy="432.61" r="1.6"/>
<circle cx="95.85" cy="436.03" r="1.6"/>
<path d="M95.85 278.75V328.49M95.85 362.51V409.29"/>
<rect x="91.95" y="328.49" width="7.79" height="34.02" fill="#00CED1"/>
<path d="M91.95 343.25H99.74" stroke="#2a2a2a" stroke-width="1.6"/>
<circle cx="103.64" cy="265.08" r="1.6"/>
<circle cx="103.64" cy="404.47" r="1.6"/>
<circle cx="103.64" cy="412.25" r="1.6"/>
<path d="M103.64 294.3V331.6M103.64 359.87V402.61"/>
<rect x="99.74" y="331.6" width="7.79" height="28.27" fill="#008B00"/>
<path d="M99.74 345.12H107.53" stroke="#2a2a2a" stroke-width="1.6"/>
<circle cx="111.43" cy="275.65" r="1.6"/>
<circle cx="111.43" cy="281.08" r="1.6"/>
<circle cx="111.43" cy="282.64" r="1.6"/>
<circle cx="111.43" cy="284.19" r="1.6"/>
<circle cx="111.43" cy="405.72" r="1.6"/>
<circle cx="111.43" cy="406.91" r="1.6"/>
<circle cx="111.43" cy="408.1" r="1.6"/>
<circle cx="111.43" cy="409.29" r="1.6"/>
<path d="M111.43 296.63V333.62M111.43 360.65V399.5"/>
<rect x="107.53" y="333.62" width="7.79" height="27.03" fill="#DC6246"/>
<path d="M107.53 347.14H115.33" stroke="#2a2a2a" stroke-width="1.6"/>
<circle cx="119.22" cy="276.89" r="1.6"/>
<circle cx="119.22" cy="401.83" r="1.6"/>
<circle cx="119.22" cy="403.28" r="1.6"/>
<circle cx="119.22" cy="404.73" r="1.6"/>
<circle cx="119.22" cy="406.18" r="1.6"/>
<path d="M119.22 291.19V332.69M119.22 359.4V398.72"/>
<rect x="115.33" y="332.69" width="7.79" height="26.72" fill="#6CA6CD"/>
<path d="M115.33 345.59H123.12" stroke="#2a2a2a" stroke-width="1.6"/>
<circle cx="127.01" cy="269.12" r="1.6"/>
<circle cx="127.01" cy="278.75" r="1.6"/>
<circle cx="127.01" cy="280" r="1.6"/>
<circle cx="127.01" cy="281.24" r="1.6"/>
<circle cx="127.01" cy="282.48" r="1.6"/>
<circle cx="127.01" cy="283.73" r="1.6"/>
<circle cx="127.01" cy="284.97" r="1.6"/>
<circle cx="127.01" cy="290.1" r="1.6"/>
<circle cx="127.01" cy="402.61" r="1.6"/>
<circle cx="127.01" cy="405.72" r="1.6"/>
<circle cx="127.01" cy="413.96" r="1.6"/>
<path d="M127.01 291.96V332.37M127.01 359.87V400.28"/>
<rect x="123.12" y="332.37" width="7.79" height="27.49" fill="#FF34B3"/>
<path d="M123.12 345.59H130.91" stroke="#2a2a2a" stroke-width="1.6"/>
<circle cx="134.8" cy="273" r="1.6"/>
<circle cx="134.8" cy="278.75" r="1.6"/>
<circle cx="134.8" cy="282.64" r="1.6"/>
<circle cx="134.8" cy="288.86" r="1.6"/>
<circle cx="134.8" cy="290.41" r="1.6"/>
<circle cx="134.8" cy="291.96" r="1.6"/>
<circle cx="134.8" cy="402.92" r="1.6"/>
<circle cx="134.8" cy="403.93" r="1.6"/>
<circle cx="134.8" cy="404.94" r="1.6"/>
<path d="M134.8 295.07V334.71M134.8 360.65V399.5"/>
<rect x="130.91" y="334.71" width="7.79" height="25.94" fill="#483D8B"/>
<path d="M130.91 345.59H138.7" stroke="#2a2a2a" stroke-width="1.6"/>
<circle cx="142.6" cy="284.5" r="1.6"/>
<circle cx="142.6" cy="285.84" r="1.6"/>
<circle cx="142.6" cy="287.18" r="1.6"/>
<circle cx="142.6" cy="288.51" r="1.6"/>
<circle cx="142.6" cy="289.85" r="1.6"/>
<circle cx="142.6" cy="291.19" r="1.6"/>
<circle cx="142.6" cy="402.14" r="1.6"/>
<circle cx="142.6" cy="410.07" r="1.6"/>
<circle cx="142.6" cy="416.13" r="1.6"/>
<path d="M142.6 293.52V333.15M142.6 359.87V400.28"/>
<rect x="138.7" y="333.15" width="7.79" height="26.72" fill="#8B4789"/>
<path d="M138.7 345.59H146.49" stroke="#2a2a2a" stroke-width="1.6"/>
<circle cx="150.39" cy="273.78" r="1.6"/>
<circle cx="150.39" cy="282.33" r="1.6"/>
<circle cx="150.39" cy="406.03" r="1.6"/>
<circle cx="150.39" cy="415.35" r="1.6"/>
<path d="M150.39 290.41V332.37M150.39 359.87V401.06"/>
<rect x="146.49" y="332.37" width="7.79" height="27.49" fill="#FF69B4"/>
<path d="M146.49 345.59H154.28" stroke="#2a2a2a" stroke-width="1.6"/>
<circle cx="158.18" cy="282.95" r="1.6"/>
<circle cx="158.18" cy="291.65" r="1.6"/>
<circle cx="158.18" cy="292.97" r="1.6"/>
<circle cx="158.18" cy="294.3" r="1.6"/>
<circle cx="158.18" cy="398.41" r="1.6"/>
<circle cx="158.18" cy="399.66" r="1.6"/>
<circle cx="158.18" cy="400.9" r="1.6"/>
<circle cx="158.18" cy="402.14" r="1.6"/>
<circle cx="158.18" cy="403.39" r="1.6"/>
<circle cx="158.18" cy="404.63" r="1.6"/>
<circle cx="158.18" cy="412.25" r="1.6"/>
<circle cx="158.18" cy="418.62" r="1.6"/>
<path d="M158.18 295.85V333.93M158.18 358.63V395.62"/>
<rect x="154.28" y="333.93" width="7.79" height="24.7" fill="#8470FF"/>
<path d="M154.28 345.12H162.07" stroke="#2a2a2a" stroke-width="1.6"/>
<circle cx="165.97" cy="278.29" r="1.6"/>
<circle cx="165.97" cy="290.1" r="1.6"/>
<circle cx="165.97" cy="291.19" r="1.6"/>
<circle cx="165.97" cy="292.28" r="1.6"/>
<circle cx="165.97" cy="407.27" r="1.6"/>
<circle cx="165.97" cy="408.28" r="1.6"/>
<circle cx="165.97" cy="409.29" r="1.6"/>
<path d="M165.97 295.85V333.93M165.97 361.42V398.72"/>
<rect x="162.07" y="333.93" width="7.79" height="27.49" fill="#A020F0"/>
<path d="M162.07 346.67H169.87" stroke="#2a2a2a" stroke-width="1.6"/>
<circle cx="173.76" cy="277.98" r="1.6"/>
<circle cx="173.76" cy="284.5" r="1.6"/>
<circle cx="173.76" cy="287.77" r="1.6"/>
<circle cx="173.76" cy="402.61" r="1.6"/>
<circle cx="173.76" cy="403.97" r="1.6"/>
<circle cx="173.76" cy="405.33" r="1.6"/>
<circle cx="173.76" cy="406.69" r="1.6"/>
<circle cx="173.76" cy="408.05" r="1.6"/>
<circle cx="173.76" cy="411.62" r="1.6"/>
<circle cx="173.76" cy="420.79" r="1.6"/>
<path d="M173.76 290.41V332.69M173.76 359.87V400.28"/>
<rect x="169.87" y="332.69" width="7.79" height="27.18" fill="#8B8B00"/>
<path d="M169.87 345.12H177.66" stroke="#2a2a2a" stroke-width="1.6"/>
<circle cx="181.55" cy="268.34" r="1.6"/>
<circle cx="181.55" cy="279.06" r="1.6"/>
<circle cx="181.55" cy="290.88" r="1.6"/>
<circle cx="181.55" cy="409.14" r="1.6"/>
<path d="M181.55 295.07V333.62M181.55 360.65V401.06"/>
<rect x="177.66" y="333.62" width="7.79" height="27.03" fill="#C8C8C8"/>
<path d="M177.66 345.12H185.45" stroke="#2a2a2a" stroke-width="1.6"/>
<circle cx="189.34" cy="285.75" r="1.6"/>
<circle cx="189.34" cy="287.61" r="1.6"/>
<circle cx="189.34" cy="403.39" r="1.6"/>
<circle cx="189.34" cy="404.55" r="1.6"/>
<circle cx="189.34" cy="405.72" r="1.6"/>
<circle cx="189.34" cy="406.88" r="1.6"/>
<circle cx="189.34" cy="408.05" r="1.6"/>
<circle cx="189.34" cy="413.96" r="1.6"/>
<path d="M189.34 288.86V331.29M189.34 359.87V400.28"/>
<rect x="185.45" y="331.29" width="7.79" height="28.58" fill="#DD8F43"/>
<path d="M185.45 345.12H193.24" stroke="#2a2a2a" stroke-width="1.6"/>
<circle cx="233.56" cy="310.85" r="1.6"/>
<circle cx="233.56" cy="315.98" r="1.6"/>
<circle cx="233.56" cy="317.15" r="1.6"/>
<circle cx="233.56" cy="318.31" r="1.6"/>
<circle cx="233.56" cy="319.48" r="1.6"/>
<circle cx="233.56" cy="320.65" r="1.6"/>
<circle cx="233.56" cy="366.5" r="1.6"/>
<circle cx="233.56" cy="368.05" r="1.6"/>
<circle cx="233.56" cy="372.71" r="1.6"/>
<path d="M233.56 322.2V337.28M233.56 348.62V364.94"/>
<rect x="229.66" y="337.28" width="7.79" height="11.35" fill="#FFA500"/>
<path d="M229.66 342.87H237.45" stroke="#2a2a2a" stroke-width="1.6"/>
<circle cx="241.35" cy="306.97" r="1.6"/>
<circle cx="241.35" cy="308.68" r="1.6"/>
<circle cx="241.35" cy="367.58" r="1.6"/>
<circle cx="241.35" cy="371.16" r="1.6"/>
<path d="M241.35 309.77V332.3M241.35 345.05V365.72"/>
<rect x="237.45" y="332.3" width="7.79" height="12.74" fill="#00CED1"/>
<path d="M237.45 338.05H245.24" stroke="#2a2a2a" stroke-width="1.6"/>
<circle cx="249.14" cy="367.27" r="1.6"/>
<circle cx="249.14" cy="368.44" r="1.6"/>
<circle cx="249.14" cy="369.6" r="1.6"/>
<circle cx="249.14" cy="370.77" r="1.6"/>
<circle cx="249.14" cy="371.94" r="1.6"/>
<path d="M249.14 320.65V337.74M249.14 349.09V365.72"/>
<rect x="245.24" y="337.74" width="7.79" height="11.35" fill="#008B00"/>
<path d="M245.24 342.87H253.03" stroke="#2a2a2a" stroke-width="1.6"/>
<circle cx="256.93" cy="318.62" r="1.6"/>
<circle cx="256.93" cy="320.18" r="1.6"/>
<circle cx="256.93" cy="365.72" r="1.6"/>
<circle cx="256.93" cy="367.27" r="1.6"/>
<circle cx="256.93" cy="368.83" r="1.6"/>
<circle cx="256.93" cy="371.94" r="1.6"/>
<circle cx="256.93" cy="375.51" r="1.6"/>
<path d="M256.93 321.42V337.74M256.93 348.31V364.16"/>
<rect x="253.03" y="337.74" width="7.79" height="10.57" fill="#DC6246"/>
<path d="M253.03 342.87H260.83" stroke="#2a2a2a" stroke-width="1.6"/>
<circle cx="264.72" cy="365.72" r="1.6"/>
<circle cx="264.72" cy="366.88" r="1.6"/>
<circle cx="264.72" cy="368.05" r="1.6"/>
<path d="M264.72 320.65V336.96M264.72 348.31V364.16"/>
<rect x="260.83" y="336.96" width="7.79" height="11.35" fill="#6CA6CD"/>
<path d="M260.83 342.87H268.62" stroke="#2a2a2a" stroke-width="1.6"/>
<circle cx="272.51" cy="316.76" r="1.6"/>
<circle cx="272.51" cy="318.62" r="1.6"/>
<circle cx="272.51" cy="366.18" r="1.6"/>
<circle cx="272.51" cy="370.07" r="1.6"/>
<path d="M272.51 319.87V337.74M272.51 348.93V364.16"/>
<rect x="268.62" y="337.74" width="7.79" height="11.19" fill="#FF34B3"/>
<path d="M268.62 343.18H276.41" stroke="#2a2a2a" stroke-width="1.6"/>
<circle cx="280.3" cy="315.98" r="1.6"/>
<circle cx="280.3" cy="317.15" r="1.6"/>
<circle cx="280.3" cy="318.31" r="1.6"/>
<circle cx="280.3" cy="366.5" r="1.6"/>
<circle cx="280.3" cy="367.66" r="1.6"/>
<circle cx="280.3" cy="368.83" r="1.6"/>
<circle cx="280.3" cy="369.99" r="1.6"/>
<circle cx="280.3" cy="371.16" r="1.6"/>
<circle cx="280.3" cy="375.82" r="1.6"/>
<path d="M280.3 319.87V336.96M280.3 348.31V364.94"/>
<rect x="276.41" y="336.96" width="7.79" height="11.35" fill="#483D8B"/>
<path d="M276.41 342.87H284.2" stroke="#2a2a2a" stroke-width="1.6"/>
<circle cx="288.1" cy="315.21" r="1.6"/>
<circle cx="288.1" cy="316.5" r="1.6"/>
<circle cx="288.1" cy="317.8" r="1.6"/>
<circle cx="288.1" cy="319.09" r="1.6"/>
<circle cx="288.1" cy="365.72" r="1.6"/>
<circle cx="288.1" cy="367.27" r="1.6"/>
<circle cx="288.1" cy="368.83" r="1.6"/>
<path d="M288.1 320.65V337.74M288.1 347.84V364.16"/>
<rect x="284.2" y="337.74" width="7.79" height="10.1" fill="#8B4789"/>
<path d="M284.2 343.18H291.99" stroke="#2a2a2a" stroke-width="1.6"/>
<circle cx="295.89" cy="370.69" r="1.6"/>
<path d="M295.89 318.31V336.65M295.89 349.09V368.83"/>
<rect x="291.99" y="336.65" width="7.79" height="12.43" fill="#FF69B4"/>
<path d="M291.99 343.18H299.78" stroke="#2a2a2a" stroke-width="1.6"/>
<circle cx="303.68" cy="315.98" r="1.6"/>
<circle cx="303.68" cy="317.28" r="1.6"/>
<circle cx="303.68" cy="318.57" r="1.6"/>
<circle cx="303.68" cy="319.87" r="1.6"/>
<circle cx="303.68" cy="366.5" r="1.6"/>
<circle cx="303.68" cy="367.66" r="1.6"/>
<circle cx="303.68" cy="368.83" r="1.6"/>
<path d="M303.68 321.42V337.74M303.68 348.31V364.94"/>
<rect x="299.78" y="337.74" width="7.79" height="10.57" fill="#8470FF"/>
<path d="M299.78 342.87H307.57" stroke="#2a2a2a" stroke-width="1.6"/>
<circle cx="311.47" cy="318.78" r="1.6"/>
<circle cx="311.47" cy="367.27" r="1.6"/>
<circle cx="311.47" cy="368.28" r="1.6"/>
<circle cx="311.47" cy="369.29" r="1.6"/>
<path d="M311.47 320.65V337.74M311.47 348.93V364.16"/>
<rect x="307.57" y="337.74" width="7.79" height="11.19" fill="#A020F0"/>
<path d="M307.57 343.18H315.37" stroke="#2a2a2a" stroke-width="1.6"/>
<circle cx="319.26" cy="315.67" r="1.6"/>
<circle cx="319.26" cy="365.72" r="1.6"/>
<circle cx="319.26" cy="368.05" r="1.6"/>
<circle cx="319.26" cy="369.23" r="1.6"/>
<circle cx="319.26" cy="370.41" r="1.6"/>
<circle cx="319.26" cy="371.59" r="1.6"/>
<circle cx="319.26" cy="372.77" r="1.6"/>
<circle cx="319.26" cy="373.96" r="1.6"/>
<path d="M319.26 320.65V337.74M319.26 348.62V364.16"/>
<rect x="315.37" y="337.74" width="7.79" height="10.88" fill="#8B8B00"/>
<path d="M315.37 343.18H323.16" stroke="#2a2a2a" stroke-width="1.6"/>
<circle cx="327.05" cy="313.65" r="1.6"/>
<circle cx="327.05" cy="316.45" r="1.6"/>
<circle cx="327.05" cy="318.31" r="1.6"/>
<path d="M327.05 319.87V337.74M327.05 348.93V365.72"/>
<rect x="323.16" y="337.74" width="7.79" height="11.19" fill="#C8C8C8"/>
<path d="M323.16 343.18H330.95" stroke="#2a2a2a" stroke-width="1.6"/>
<circle cx="334.84" cy="318" r="1.6"/>
<circle cx="334.84" cy="319.56" r="1.6"/>
<circle cx="334.84" cy="371.16" r="1.6"/>
<path d="M334.84 320.65V337.74M334.84 349.09V366.5"/>
<rect x="330.95" y="337.74" width="7.79" height="11.35" fill="#DD8F43"/>
<path d="M330.95 343.96H338.74" stroke="#2a2a2a" stroke-width="1.6"/>
<circle cx="378.81" cy="329.87" r="1.6"/>
<circle cx="378.81" cy="333.44" r="1.6"/>
<path d="M378.81 335.31V342.3M378.81 348.52V355.51"/>
<rect x="374.91" y="342.3" width="7.79" height="6.22" fill="#FFA500"/>
<path d="M374.91 345.1H382.7" stroke="#2a2a2a" stroke-width="1.6"/>
<circle cx="386.6" cy="321.79" r="1.6"/>
<circle cx="386.6" cy="352.4" r="1.6"/>
<circle cx="386.6" cy="353.57" r="1.6"/>
<circle cx="386.6" cy="354.74" r="1.6"/>
<path d="M386.6 323.65V334.53M386.6 342.3V350.85"/>
<rect x="382.7" y="334.53" width="7.79" height="7.77" fill="#00CED1"/>
<path d="M382.7 338.11H390.49" stroke="#2a2a2a" stroke-width="1.6"/>
<circle cx="394.39" cy="331.73" r="1.6"/>
<circle cx="394.39" cy="333.13" r="1.6"/>
<circle cx="394.39" cy="334.53" r="1.6"/>
<circle cx="394.39" cy="356.29" r="1.6"/>
<circle cx="394.39" cy="357.84" r="1.6"/>
<circle cx="394.39" cy="359.4" r="1.6"/>
<path d="M394.39 336.08V343.08M394.39 348.21V354.74"/>
<rect x="390.49" y="343.08" width="7.79" height="5.13" fill="#008B00"/>
<path d="M390.49 345.72H398.28" stroke="#2a2a2a" stroke-width="1.6"/>
<circle cx="402.18" cy="332.67" r="1.6"/>
<circle cx="402.18" cy="334.53" r="1.6"/>
<circle cx="402.18" cy="355.98" r="1.6"/>
<circle cx="402.18" cy="357.84" r="1.6"/>
<path d="M402.18 336.08V343.39M402.18 348.21V354.74"/>
<rect x="398.28" y="343.39" width="7.79" height="4.82" fill="#DC6246"/>
<path d="M398.28 345.72H406.08" stroke="#2a2a2a" stroke-width="1.6"/>
<circle cx="409.97" cy="358.62" r="1.6"/>
<circle cx="409.97" cy="362.2" r="1.6"/>
<path d="M409.97 335V342.77M409.97 348.21V354.74"/>
<rect x="406.08" y="342.77" width="7.79" height="5.44" fill="#6CA6CD"/>
<path d="M406.08 345.41H413.87" stroke="#2a2a2a" stroke-width="1.6"/>
<circle cx="417.76" cy="332.67" r="1.6"/>
<circle cx="417.76" cy="357.84" r="1.6"/>
<circle cx="417.76" cy="360.64" r="1.6"/>
<path d="M417.76 334.53V342.77M417.76 348.21V355.51"/>
<rect x="413.87" y="342.77" width="7.79" height="5.44" fill="#FF34B3"/>
<path d="M413.87 345.41H421.66" stroke="#2a2a2a" stroke-width="1.6"/>
<circle cx="425.55" cy="331.73" r="1.6"/>
<circle cx="425.55" cy="333.13" r="1.6"/>
<circle cx="425.55" cy="334.53" r="1.6"/>
<circle cx="425.55" cy="357.07" r="1.6"/>
<path d="M425.55 336.08V343.08M425.55 348.21V355.05"/>
<rect x="421.66" y="343.08" width="7.79" height="5.13" fill="#483D8B"/>
<path d="M421.66 345.72H429.45" stroke="#2a2a2a" stroke-width="1.6"/>
<circle cx="433.35" cy="330.65" r="1.6"/>
<circle cx="433.35" cy="332.2" r="1.6"/>
<circle cx="433.35" cy="333.75" r="1.6"/>
<circle cx="433.35" cy="355.98" r="1.6"/>
<circle cx="433.35" cy="357.3" r="1.6"/>
<circle cx="433.35" cy="358.62" r="1.6"/>
<circle cx="433.35" cy="364.06" r="1.6"/>
<path d="M433.35 335.31V343.39M433.35 348.21V354.74"/>
<rect x="429.45" y="343.39" width="7.79" height="4.82" fill="#8B4789"/>
<path d="M429.45 346.03H437.24" stroke="#2a2a2a" stroke-width="1.6"/>
<circle cx="441.14" cy="332.2" r="1.6"/>
<circle cx="441.14" cy="356.29" r="1.6"/>
<circle cx="441.14" cy="360.64" r="1.6"/>
<path d="M441.14 333.75V343.08M441.14 348.21V354.42"/>
<rect x="437.24" y="343.08" width="7.79" height="5.13" fill="#FF69B4"/>
<path d="M437.24 345.72H445.03" stroke="#2a2a2a" stroke-width="1.6"/>
<circle cx="448.93" cy="331.73" r="1.6"/>
<circle cx="448.93" cy="332.74" r="1.6"/>
<circle cx="448.93" cy="333.75" r="1.6"/>
<circle cx="448.93" cy="356.6" r="1.6"/>
<path d="M448.93 335.31V342.3M448.93 347.43V354.74"/>
<rect x="445.03" y="342.3" width="7.79" height="5.13" fill="#8470FF"/>
<path d="M445.03 344.79H452.82" stroke="#2a2a2a" stroke-width="1.6"/>
<circle cx="456.72" cy="331.73" r="1.6"/>
<circle cx="456.72" cy="332.98" r="1.6"/>
<circle cx="456.72" cy="334.22" r="1.6"/>
<circle cx="456.72" cy="357.84" r="1.6"/>
<circle cx="456.72" cy="359.01" r="1.6"/>
<circle cx="456.72" cy="360.18" r="1.6"/>
<circle cx="456.72" cy="364.06" r="1.6"/>
<path d="M456.72 336.08V343.39M456.72 348.52V355.51"/>
<rect x="452.82" y="343.39" width="7.79" height="5.13" fill="#A020F0"/>
<path d="M452.82 346.03H460.62" stroke="#2a2a2a" stroke-width="1.6"/>
<circle cx="464.51" cy="330.65" r="1.6"/>
<circle cx="464.51" cy="332.04" r="1.6"/>
<circle cx="464.51" cy="333.44" r="1.6"/>
<circle cx="464.51" cy="356.76" r="1.6"/>
<circle cx="464.51" cy="358.08" r="1.6"/>
<circle cx="464.51" cy="359.4" r="1.6"/>
<path d="M464.51 335.31V342.3M464.51 348.21V355.51"/>
<rect x="460.62" y="342.3" width="7.79" height="5.91" fill="#8B8B00"/>
<path d="M460.62 345.41H468.41" stroke="#2a2a2a" stroke-width="1.6"/>
<circle cx="472.3" cy="328.31" r="1.6"/>
<circle cx="472.3" cy="332.98" r="1.6"/>
<path d="M472.3 335.31V342.3M472.3 348.21V356.29"/>
<rect x="468.41" y="342.3" width="7.79" height="5.91" fill="#C8C8C8"/>
<path d="M468.41 345.41H476.2" stroke="#2a2a2a" stroke-width="1.6"/>
<circle cx="480.09" cy="332.2" r="1.6"/>
<circle cx="480.09" cy="333.21" r="1.6"/>
<circle cx="480.09" cy="334.22" r="1.6"/>
<circle cx="480.09" cy="355.98" r="1.6"/>
<circle cx="480.09" cy="357.84" r="1.6"/>
<path d="M480.09 336.08V343.08M480.09 348.52V354.74"/>
<rect x="476.2" y="343.08" width="7.79" height="5.44" fill="#DD8F43"/>
<path d="M476.2 345.72H483.99" stroke="#2a2a2a" stroke-width="1.6"/>
<circle cx="524.46" cy="303.83" r="1.6"/>
<circle cx="524.46" cy="305" r="1.6"/>
<circle cx="524.46" cy="306.16" r="1.6"/>
<circle cx="524.46" cy="387.4" r="1.6"/>
<circle cx="524.46" cy="388.73" r="1.6"/>
<circle cx="524.46" cy="390.05" r="1.6"/>
<path d="M524.46 307.4V336.62M524.46 357.14V385.07"/>
<rect x="520.56" y="336.62" width="7.79" height="20.52" fill="#FFA500"/>
<path d="M520.56 345.79H528.35" stroke="#2a2a2a" stroke-width="1.6"/>
<circle cx="532.25" cy="268.55" r="1.6"/>
<circle cx="532.25" cy="270.57" r="1.6"/>
<circle cx="532.25" cy="271.81" r="1.6"/>
<circle cx="532.25" cy="273.06" r="1.6"/>
<circle cx="532.25" cy="274.3" r="1.6"/>
<circle cx="532.25" cy="275.54" r="1.6"/>
<circle cx="532.25" cy="380.41" r="1.6"/>
<circle cx="532.25" cy="388.18" r="1.6"/>
<circle cx="532.25" cy="389.35" r="1.6"/>
<circle cx="532.25" cy="390.51" r="1.6"/>
<path d="M532.25 280.21V317.51M532.25 342.06V378.55"/>
<rect x="528.35" y="317.51" width="7.79" height="24.56" fill="#00CED1"/>
<path d="M528.35 329.16H536.14" stroke="#2a2a2a" stroke-width="1.6"/>
<circle cx="540.04" cy="305.54" r="1.6"/>
<circle cx="540.04" cy="387.4" r="1.6"/>
<path d="M540.04 307.4V336.16M540.04 355.12V381.19"/>
<rect x="536.14" y="336.16" width="7.79" height="18.96" fill="#008B00"/>
<path d="M536.14 345.48H543.93" stroke="#2a2a2a" stroke-width="1.6"/>
<circle cx="547.83" cy="303.83" r="1.6"/>
<circle cx="547.83" cy="305.85" r="1.6"/>
<circle cx="547.83" cy="307.15" r="1.6"/>
<circle cx="547.83" cy="308.44" r="1.6"/>
<circle cx="547.83" cy="309.74" r="1.6"/>
<circle cx="547.83" cy="382.74" r="1.6"/>
<circle cx="547.83" cy="384.1" r="1.6"/>
<circle cx="547.83" cy="385.46" r="1.6"/>
<circle cx="547.83" cy="386.82" r="1.6"/>
<circle cx="547.83" cy="388.18" r="1.6"/>
<circle cx="547.83" cy="396.73" r="1.6"/>
<path d="M547.83 311.29V337.4M547.83 355.12V381.19"/>
<rect x="543.93" y="337.4" width="7.79" height="17.72" fill="#DC6246"/>
<path d="M543.93 345.48H551.73" stroke="#2a2a2a" stroke-width="1.6"/>
<circle cx="555.62" cy="295.75" r="1.6"/>
<circle cx="555.62" cy="306.32" r="1.6"/>
<path d="M555.62 309.74V336.94M555.62 355.12V381.96"/>
<rect x="551.73" y="336.94" width="7.79" height="18.18" fill="#6CA6CD"/>
<path d="M551.73 345.48H559.52" stroke="#2a2a2a" stroke-width="1.6"/>
<circle cx="563.41" cy="306.32" r="1.6"/>
<circle cx="563.41" cy="387.4" r="1.6"/>
<path d="M563.41 308.18V337.71M563.41 356.67V384.3"/>
<rect x="559.52" y="337.71" width="7.79" height="18.96" fill="#FF34B3"/>
<path d="M559.52 347.04H567.31" stroke="#2a2a2a" stroke-width="1.6"/>
<circle cx="571.2" cy="302.74" r="1.6"/>
<circle cx="571.2" cy="303.91" r="1.6"/>
<circle cx="571.2" cy="305.07" r="1.6"/>
<circle cx="571.2" cy="396.73" r="1.6"/>
<path d="M571.2 308.18V336.94M571.2 356.36V384.76"/>
<rect x="567.31" y="336.94" width="7.79" height="19.43" fill="#483D8B"/>
<path d="M567.31 346.26H575.1" stroke="#2a2a2a" stroke-width="1.6"/>
<circle cx="579" cy="290.62" r="1.6"/>
<circle cx="579" cy="296.21" r="1.6"/>
<circle cx="579" cy="304.3" r="1.6"/>
<circle cx="579" cy="305.59" r="1.6"/>
<circle cx="579" cy="306.89" r="1.6"/>
<circle cx="579" cy="308.18" r="1.6"/>
<circle cx="579" cy="385.07" r="1.6"/>
<circle cx="579" cy="389.74" r="1.6"/>
<path d="M579 309.74V336.94M579 356.36V381.65"/>
<rect x="575.1" y="336.94" width="7.79" height="19.43" fill="#8B4789"/>
<path d="M575.1 345.17H582.89" stroke="#2a2a2a" stroke-width="1.6"/>
<circle cx="586.79" cy="302.28" r="1.6"/>
<circle cx="586.79" cy="385.07" r="1.6"/>
<circle cx="586.79" cy="387.4" r="1.6"/>
<circle cx="586.79" cy="388.57" r="1.6"/>
<circle cx="586.79" cy="389.74" r="1.6"/>
<path d="M586.79 309.74V337.71M586.79 356.05V382.74"/>
<rect x="582.89" y="337.71" width="7.79" height="18.34" fill="#FF69B4"/>
<path d="M582.89 345.95H590.68" stroke="#2a2a2a" stroke-width="1.6"/>
<circle cx="594.58" cy="293.73" r="1.6"/>
<circle cx="594.58" cy="305.07" r="1.6"/>
<circle cx="594.58" cy="306.24" r="1.6"/>
<circle cx="594.58" cy="307.4" r="1.6"/>
<circle cx="594.58" cy="385.07" r="1.6"/>
<circle cx="594.58" cy="386.63" r="1.6"/>
<circle cx="594.58" cy="388.18" r="1.6"/>
<circle cx="594.58" cy="390.98" r="1.6"/>
<path d="M594.58 310.51V337.71M594.58 355.12V382.74"/>
<rect x="590.68" y="337.71" width="7.79" height="17.41" fill="#8470FF"/>
<path d="M590.68 345.79H598.47" stroke="#2a2a2a" stroke-width="1.6"/>
<circle cx="602.37" cy="303.21" r="1.6"/>
<circle cx="602.37" cy="304.61" r="1.6"/>
<circle cx="602.37" cy="306.01" r="1.6"/>
<circle cx="602.37" cy="307.4" r="1.6"/>
<circle cx="602.37" cy="384.76" r="1.6"/>
<circle cx="602.37" cy="394.4" r="1.6"/>
<circle cx="602.37" cy="395.56" r="1.6"/>
<circle cx="602.37" cy="396.73" r="1.6"/>
<path d="M602.37 308.96V336.94M602.37 355.12V382.28"/>
<rect x="598.47" y="336.94" width="7.79" height="18.18" fill="#A020F0"/>
<path d="M598.47 345.79H606.27" stroke="#2a2a2a" stroke-width="1.6"/>
<circle cx="610.16" cy="305.07" r="1.6"/>
<circle cx="610.16" cy="306.24" r="1.6"/>
<circle cx="610.16" cy="307.4" r="1.6"/>
<circle cx="610.16" cy="384.76" r="1.6"/>
<circle cx="610.16" cy="386.08" r="1.6"/>
<circle cx="610.16" cy="387.4" r="1.6"/>
<circle cx="610.16" cy="390.05" r="1.6"/>
<path d="M610.16 309.74V337.4M610.16 355.12V382.74"/>
<rect x="606.27" y="337.4" width="7.79" height="17.72" fill="#8B8B00"/>
<path d="M606.27 345.79H614.06" stroke="#2a2a2a" stroke-width="1.6"/>
<circle cx="617.95" cy="307.4" r="1.6"/>
<circle cx="617.95" cy="308.41" r="1.6"/>
<circle cx="617.95" cy="309.42" r="1.6"/>
<circle cx="617.95" cy="385.38" r="1.6"/>
<circle cx="617.95" cy="386.39" r="1.6"/>
<circle cx="617.95" cy="387.4" r="1.6"/>
<circle cx="617.95" cy="394.71" r="1.6"/>
<circle cx="617.95" cy="395.72" r="1.6"/>
<circle cx="617.95" cy="396.73" r="1.6"/>
<path d="M617.95 310.51V337.71M617.95 356.05V383.52"/>
<rect x="614.06" y="337.71" width="7.79" height="18.34" fill="#C8C8C8"/>
<path d="M614.06 347.35H621.85" stroke="#2a2a2a" stroke-width="1.6"/>
<circle cx="625.74" cy="301.65" r="1.6"/>
<circle cx="625.74" cy="304.3" r="1.6"/>
<circle cx="625.74" cy="305.59" r="1.6"/>
<circle cx="625.74" cy="306.89" r="1.6"/>
<circle cx="625.74" cy="308.18" r="1.6"/>
<circle cx="625.74" cy="384.3" r="1.6"/>
<circle cx="625.74" cy="388.96" r="1.6"/>
<circle cx="625.74" cy="390.51" r="1.6"/>
<path d="M625.74 309.74V336.62M625.74 356.05V382.28"/>
<rect x="621.85" y="336.62" width="7.79" height="19.43" fill="#DD8F43"/>
<path d="M621.85 345.79H629.64" stroke="#2a2a2a" stroke-width="1.6"/>
<circle cx="88.06" cy="546.99" r="1.6"/>
<circle cx="88.06" cy="628.18" r="1.6"/>
<circle cx="88.06" cy="629.32" r="1.6"/>
<circle cx="88.06" cy="630.46" r="1.6"/>
<circle cx="88.06" cy="631.6" r="1.6"/>
<path d="M88.06 548.86V578.39M88.06 597.5V625.85"/>
<rect x="84.16" y="578.39" width="7.79" height="19.12" fill="#FFA500"/>
<path d="M84.16 586.62H91.95" stroke="#2a2a2a" stroke-width="1.6"/>
<circle cx="95.85" cy="532.23" r="1.6"/>
<circle cx="95.85" cy="536.73" r="1.6"/>
<circle cx="95.85" cy="538.02" r="1.6"/>
<circle cx="95.85" cy="539.3" r="1.6"/>
<circle cx="95.85" cy="540.58" r="1.6"/>
<circle cx="95.85" cy="541.86" r="1.6"/>
<circle cx="95.85" cy="642.64" r="1.6"/>
<circle cx="95.85" cy="643.8" r="1.6"/>
<circle cx="95.85" cy="644.97" r="1.6"/>
<path d="M95.85 543.42V580.72M95.85 605.28V640.62"/>
<rect x="91.95" y="580.72" width="7.79" height="24.56" fill="#00CED1"/>
<path d="M91.95 593.46H99.74" stroke="#2a2a2a" stroke-width="1.6"/>
<circle cx="103.64" cy="540" r="1.6"/>
<circle cx="103.64" cy="548.39" r="1.6"/>
<circle cx="103.64" cy="626.16" r="1.6"/>
<circle cx="103.64" cy="627.35" r="1.6"/>
<circle cx="103.64" cy="628.54" r="1.6"/>
<circle cx="103.64" cy="629.74" r="1.6"/>
<path d="M103.64 550.41V578.39M103.64 596.26V621.19"/>
<rect x="99.74" y="578.39" width="7.79" height="17.87" fill="#008B00"/>
<path d="M99.74 586.16H107.53" stroke="#2a2a2a" stroke-width="1.6"/>
<circle cx="111.43" cy="546.84" r="1.6"/>
<circle cx="111.43" cy="547.92" r="1.6"/>
<circle cx="111.43" cy="549.01" r="1.6"/>
<circle cx="111.43" cy="550.1" r="1.6"/>
<circle cx="111.43" cy="623.99" r="1.6"/>
<circle cx="111.43" cy="625.31" r="1.6"/>
<circle cx="111.43" cy="626.63" r="1.6"/>
<circle cx="111.43" cy="631.29" r="1.6"/>
<circle cx="111.43" cy="634.71" r="1.6"/>
<circle cx="111.43" cy="641.39" r="1.6"/>
<path d="M111.43 554.3V577.61M111.43 595.95V621.96"/>
<rect x="107.53" y="577.61" width="7.79" height="18.34" fill="#DC6246"/>
<path d="M107.53 586.62H115.33" stroke="#2a2a2a" stroke-width="1.6"/>
<circle cx="119.22" cy="548.55" r="1.6"/>
<circle cx="119.22" cy="550.1" r="1.6"/>
<circle cx="119.22" cy="623.99" r="1.6"/>
<circle cx="119.22" cy="625.31" r="1.6"/>
<circle cx="119.22" cy="626.63" r="1.6"/>
<circle cx="119.22" cy="633.62" r="1.6"/>
<path d="M119.22 551.19V579.47M119.22 595.95V621.96"/>
<rect x="115.33" y="579.47" width="7.79" height="16.47" fill="#6CA6CD"/>
<path d="M115.33 588.18H123.12" stroke="#2a2a2a" stroke-width="1.6"/>
<circle cx="127.01" cy="533.31" r="1.6"/>
<circle cx="127.01" cy="534.87" r="1.6"/>
<circle cx="127.01" cy="540.77" r="1.6"/>
<circle cx="127.01" cy="542.64" r="1.6"/>
<circle cx="127.01" cy="613.88" r="1.6"/>
<circle cx="127.01" cy="622.43" r="1.6"/>
<circle cx="127.01" cy="625.54" r="1.6"/>
<path d="M127.01 544.19V569.53M127.01 586.16V611.86"/>
<rect x="123.12" y="569.53" width="7.79" height="16.63" fill="#FF34B3"/>
<path d="M123.12 577.92H130.91" stroke="#2a2a2a" stroke-width="1.6"/>
<circle cx="134.8" cy="527.56" r="1.6"/>
<circle cx="134.8" cy="598.65" r="1.6"/>
<circle cx="134.8" cy="600.21" r="1.6"/>
<circle cx="134.8" cy="601.76" r="1.6"/>
<path d="M134.8 529.43V554.61M134.8 570.3V593.99"/>
<rect x="130.91" y="554.61" width="7.79" height="15.7" fill="#483D8B"/>
<path d="M130.91 562.38H138.7" stroke="#2a2a2a" stroke-width="1.6"/>
<circle cx="142.6" cy="598.65" r="1.6"/>
<circle cx="142.6" cy="600.1" r="1.6"/>
<circle cx="142.6" cy="601.55" r="1.6"/>
<circle cx="142.6" cy="603" r="1.6"/>
<path d="M142.6 527.87V554.61M142.6 571.08V594.77"/>
<rect x="138.7" y="554.61" width="7.79" height="16.47" fill="#8B4789"/>
<path d="M138.7 561.29H146.49" stroke="#2a2a2a" stroke-width="1.6"/>
<circle cx="150.39" cy="547.77" r="1.6"/>
<circle cx="150.39" cy="549.32" r="1.6"/>
<circle cx="150.39" cy="624.3" r="1.6"/>
<circle cx="150.39" cy="625.66" r="1.6"/>
<circle cx="150.39" cy="627.02" r="1.6"/>
<circle cx="150.39" cy="628.38" r="1.6"/>
<circle cx="150.39" cy="629.74" r="1.6"/>
<circle cx="150.39" cy="638.75" r="1.6"/>
<path d="M150.39 550.41V578.39M150.39 595.95V621.96"/>
<rect x="146.49" y="578.39" width="7.79" height="17.56" fill="#FF69B4"/>
<path d="M146.49 586.16H154.28" stroke="#2a2a2a" stroke-width="1.6"/>
<circle cx="158.18" cy="550.72" r="1.6"/>
<circle cx="158.18" cy="552.07" r="1.6"/>
<circle cx="158.18" cy="553.42" r="1.6"/>
<circle cx="158.18" cy="554.76" r="1.6"/>
<circle cx="158.18" cy="639.53" r="1.6"/>
<circle cx="158.18" cy="654.6" r="1.6"/>
<path d="M158.18 558.96V588.18M158.18 608.38V633.62"/>
<rect x="154.28" y="588.18" width="7.79" height="20.21" fill="#8470FF"/>
<path d="M154.28 598.59H162.07" stroke="#2a2a2a" stroke-width="1.6"/>
<circle cx="165.97" cy="523.99" r="1.6"/>
<circle cx="165.97" cy="525" r="1.6"/>
<circle cx="165.97" cy="526.01" r="1.6"/>
<circle cx="165.97" cy="531.76" r="1.6"/>
<circle cx="165.97" cy="605.65" r="1.6"/>
<circle cx="165.97" cy="607.2" r="1.6"/>
<path d="M165.97 534.09V560.2M165.97 577.92V604.87"/>
<rect x="162.07" y="560.2" width="7.79" height="17.72" fill="#A020F0"/>
<path d="M162.07 569.06H169.87" stroke="#2a2a2a" stroke-width="1.6"/>
<circle cx="173.76" cy="548.08" r="1.6"/>
<circle cx="173.76" cy="549.63" r="1.6"/>
<circle cx="173.76" cy="551.19" r="1.6"/>
<circle cx="173.76" cy="616.99" r="1.6"/>
<circle cx="173.76" cy="618.31" r="1.6"/>
<circle cx="173.76" cy="619.63" r="1.6"/>
<circle cx="173.76" cy="630.2" r="1.6"/>
<path d="M173.76 552.74V575.28M173.76 591.29V614.97"/>
<rect x="169.87" y="575.28" width="7.79" height="16.01" fill="#8B8B00"/>
<path d="M169.87 583.36H177.66" stroke="#2a2a2a" stroke-width="1.6"/>
<circle cx="181.55" cy="553.21" r="1.6"/>
<circle cx="181.55" cy="554.76" r="1.6"/>
<circle cx="181.55" cy="628.96" r="1.6"/>
<path d="M181.55 555.85V581.5M181.55 598.28V623.52"/>
<rect x="177.66" y="581.5" width="7.79" height="16.79" fill="#C8C8C8"/>
<path d="M177.66 589.27H185.45" stroke="#2a2a2a" stroke-width="1.6"/>
<circle cx="189.34" cy="550.72" r="1.6"/>
<circle cx="189.34" cy="552.28" r="1.6"/>
<circle cx="189.34" cy="625.07" r="1.6"/>
<circle cx="189.34" cy="626.37" r="1.6"/>
<circle cx="189.34" cy="627.66" r="1.6"/>
<circle cx="189.34" cy="628.96" r="1.6"/>
<path d="M189.34 553.52V579.94M189.34 597.5V621.96"/>
<rect x="185.45" y="579.94" width="7.79" height="17.56" fill="#DD8F43"/>
<path d="M185.45 586.62H193.24" stroke="#2a2a2a" stroke-width="1.6"/>
<circle cx="233.56" cy="520.65" r="1.6"/>
<circle cx="233.56" cy="521.97" r="1.6"/>
<circle cx="233.56" cy="523.29" r="1.6"/>
<circle cx="233.56" cy="532.3" r="1.6"/>
<circle cx="233.56" cy="639.53" r="1.6"/>
<circle cx="233.56" cy="644.19" r="1.6"/>
<path d="M233.56 536.96V572.71M233.56 598.36V632.84"/>
<rect x="229.66" y="572.71" width="7.79" height="25.65" fill="#FFA500"/>
<path d="M229.66 585.15H237.45" stroke="#2a2a2a" stroke-width="1.6"/>
<circle cx="241.35" cy="517.54" r="1.6"/>
<circle cx="241.35" cy="518.7" r="1.6"/>
<circle cx="241.35" cy="519.87" r="1.6"/>
<circle cx="241.35" cy="524.53" r="1.6"/>
<circle cx="241.35" cy="525.67" r="1.6"/>
<circle cx="241.35" cy="526.81" r="1.6"/>
<circle cx="241.35" cy="527.95" r="1.6"/>
<circle cx="241.35" cy="659.27" r="1.6"/>
<circle cx="241.35" cy="665.17" r="1.6"/>
<circle cx="241.35" cy="666.73" r="1.6"/>
<circle cx="241.35" cy="668.28" r="1.6"/>
<circle cx="241.35" cy="670.92" r="1.6"/>
<path d="M241.35 530.75V577.37M241.35 610.01V656.94"/>
<rect x="237.45" y="577.37" width="7.79" height="32.64" fill="#00CED1"/>
<path d="M237.45 592.45H245.24" stroke="#2a2a2a" stroke-width="1.6"/>
<circle cx="249.14" cy="527.64" r="1.6"/>
<circle cx="249.14" cy="540.85" r="1.6"/>
<circle cx="249.14" cy="542.15" r="1.6"/>
<circle cx="249.14" cy="543.44" r="1.6"/>
<circle cx="249.14" cy="544.74" r="1.6"/>
<circle cx="249.14" cy="642.95" r="1.6"/>
<circle cx="249.14" cy="644.5" r="1.6"/>
<circle cx="249.14" cy="646.06" r="1.6"/>
<circle cx="249.14" cy="649.94" r="1.6"/>
<path d="M249.14 546.29V580.48M249.14 604.11V639.84"/>
<rect x="245.24" y="580.48" width="7.79" height="23.62" fill="#008B00"/>
<path d="M245.24 592.92H253.03" stroke="#2a2a2a" stroke-width="1.6"/>
<circle cx="256.93" cy="535.41" r="1.6"/>
<circle cx="256.93" cy="536.65" r="1.6"/>
<circle cx="256.93" cy="537.9" r="1.6"/>
<circle cx="256.93" cy="539.14" r="1.6"/>
<circle cx="256.93" cy="540.38" r="1.6"/>
<circle cx="256.93" cy="541.63" r="1.6"/>
<circle cx="256.93" cy="642.95" r="1.6"/>
<circle cx="256.93" cy="656.16" r="1.6"/>
<path d="M256.93 543.18V579.71M256.93 603.49V638.28"/>
<rect x="253.03" y="579.71" width="7.79" height="23.78" fill="#DC6246"/>
<path d="M253.03 590.12H260.83" stroke="#2a2a2a" stroke-width="1.6"/>
<circle cx="264.72" cy="529.5" r="1.6"/>
<circle cx="264.72" cy="532.3" r="1.6"/>
<circle cx="264.72" cy="533.7" r="1.6"/>
<circle cx="264.72" cy="535.1" r="1.6"/>
<circle cx="264.72" cy="536.5" r="1.6"/>
<circle cx="264.72" cy="537.9" r="1.6"/>
<circle cx="264.72" cy="539.3" r="1.6"/>
<circle cx="264.72" cy="635.18" r="1.6"/>
<circle cx="264.72" cy="649.94" r="1.6"/>
<path d="M264.72 540.85V572.71M264.72 594.32V625.85"/>
<rect x="260.83" y="572.71" width="7.79" height="21.6" fill="#6CA6CD"/>
<path d="M260.83 584.37H268.62" stroke="#2a2a2a" stroke-width="1.6"/>
<circle cx="272.51" cy="539.3" r="1.6"/>
<circle cx="272.51" cy="540.46" r="1.6"/>
<circle cx="272.51" cy="541.63" r="1.6"/>
<circle cx="272.51" cy="642.95" r="1.6"/>
<circle cx="272.51" cy="644.5" r="1.6"/>
<circle cx="272.51" cy="646.06" r="1.6"/>
<path d="M272.51 543.96V579.71M272.51 604.11V639.06"/>
<rect x="268.62" y="579.71" width="7.79" height="24.4" fill="#FF34B3"/>
<path d="M268.62 591.36H276.41" stroke="#2a2a2a" stroke-width="1.6"/>
<circle cx="280.3" cy="509.45" r="1.6"/>
<circle cx="280.3" cy="510.54" r="1.6"/>
<circle cx="280.3" cy="607.98" r="1.6"/>
<circle cx="280.3" cy="611.86" r="1.6"/>
<path d="M280.3 515.21V549.4M280.3 572.4V604.87"/>
<rect x="276.41" y="549.4" width="7.79" height="23" fill="#483D8B"/>
<path d="M276.41 561.52H284.2" stroke="#2a2a2a" stroke-width="1.6"/>
<circle cx="288.1" cy="508.99" r="1.6"/>
<circle cx="288.1" cy="512.41" r="1.6"/>
<path d="M288.1 516.76V550.18M288.1 571.62V604.87"/>
<rect x="284.2" y="550.18" width="7.79" height="21.45" fill="#8B4789"/>
<path d="M284.2 562.14H291.99" stroke="#2a2a2a" stroke-width="1.6"/>
<circle cx="295.89" cy="531.52" r="1.6"/>
<circle cx="295.89" cy="538.52" r="1.6"/>
<circle cx="295.89" cy="539.68" r="1.6"/>
<circle cx="295.89" cy="540.85" r="1.6"/>
<circle cx="295.89" cy="639.06" r="1.6"/>
<circle cx="295.89" cy="640.62" r="1.6"/>
<circle cx="295.89" cy="642.17" r="1.6"/>
<circle cx="295.89" cy="656.16" r="1.6"/>
<path d="M295.89 543.96V579.24M295.89 603.02V635.95"/>
<rect x="291.99" y="579.24" width="7.79" height="23.78" fill="#FF69B4"/>
<path d="M291.99 590.12H299.78" stroke="#2a2a2a" stroke-width="1.6"/>
<circle cx="303.68" cy="522.98" r="1.6"/>
<circle cx="303.68" cy="525.77" r="1.6"/>
<circle cx="303.68" cy="626.32" r="1.6"/>
<circle cx="303.68" cy="632.84" r="1.6"/>
<circle cx="303.68" cy="636.26" r="1.6"/>
<path d="M303.68 533.86V568.36M303.68 591.36V624.3"/>
<rect x="299.78" y="568.36" width="7.79" height="23" fill="#8470FF"/>
<path d="M299.78 578.46H307.57" stroke="#2a2a2a" stroke-width="1.6"/>
<circle cx="311.47" cy="510.54" r="1.6"/>
<circle cx="311.47" cy="515.98" r="1.6"/>
<circle cx="311.47" cy="604.87" r="1.6"/>
<circle cx="311.47" cy="612.17" r="1.6"/>
<path d="M311.47 517.54V549.4M311.47 571.16V602.54"/>
<rect x="307.57" y="549.4" width="7.79" height="21.76" fill="#A020F0"/>
<path d="M307.57 559.5H315.37" stroke="#2a2a2a" stroke-width="1.6"/>
<circle cx="319.26" cy="531.52" r="1.6"/>
<circle cx="319.26" cy="532.69" r="1.6"/>
<circle cx="319.26" cy="533.86" r="1.6"/>
<circle cx="319.26" cy="535.02" r="1.6"/>
<circle cx="319.26" cy="536.19" r="1.6"/>
<circle cx="319.26" cy="629.42" r="1.6"/>
<circle cx="319.26" cy="631.29" r="1.6"/>
<circle cx="319.26" cy="649.94" r="1.6"/>
<path d="M319.26 538.52V571.47M319.26 593.69V627.4"/>
<rect x="315.37" y="571.47" width="7.79" height="22.23" fill="#8B8B00"/>
<path d="M315.37 581.26H323.16" stroke="#2a2a2a" stroke-width="1.6"/>
<circle cx="327.05" cy="535.41" r="1.6"/>
<circle cx="327.05" cy="632.84" r="1.6"/>
<circle cx="327.05" cy="645.28" r="1.6"/>
<path d="M327.05 536.96V572.25M327.05 596.03V630.51"/>
<rect x="323.16" y="572.25" width="7.79" height="23.78" fill="#C8C8C8"/>
<path d="M323.16 583.59H330.95" stroke="#2a2a2a" stroke-width="1.6"/>
<circle cx="334.84" cy="520.65" r="1.6"/>
<circle cx="334.84" cy="534.94" r="1.6"/>
<circle cx="334.84" cy="540.85" r="1.6"/>
<circle cx="334.84" cy="634.71" r="1.6"/>
<circle cx="334.84" cy="635.72" r="1.6"/>
<circle cx="334.84" cy="636.73" r="1.6"/>
<circle cx="334.84" cy="639.84" r="1.6"/>
<circle cx="334.84" cy="646.06" r="1.6"/>
<path d="M334.84 543.18V576.29M334.84 599.91V632.84"/>
<rect x="330.95" y="576.29" width="7.79" height="23.62" fill="#DD8F43"/>
<path d="M330.95 586.7H338.74" stroke="#2a2a2a" stroke-width="1.6"/>
<circle cx="378.81" cy="532.98" r="1.6"/>
<circle cx="378.81" cy="534.14" r="1.6"/>
<circle cx="378.81" cy="535.31" r="1.6"/>
<circle cx="378.81" cy="541.06" r="1.6"/>
<circle cx="378.81" cy="628.96" r="1.6"/>
<circle cx="378.81" cy="630.12" r="1.6"/>
<circle cx="378.81" cy="631.29" r="1.6"/>
<path d="M378.81 544.63V575.72M378.81 597.01V625.85"/>
<rect x="374.91" y="575.72" width="7.79" height="21.29" fill="#FFA500"/>
<path d="M374.91 585.51H382.7" stroke="#2a2a2a" stroke-width="1.6"/>
<circle cx="386.6" cy="536.86" r="1.6"/>
<circle cx="386.6" cy="541.06" r="1.6"/>
<circle cx="386.6" cy="542.07" r="1.6"/>
<circle cx="386.6" cy="543.08" r="1.6"/>
<circle cx="386.6" cy="660.82" r="1.6"/>
<path d="M386.6 549.3V586.6M386.6 613.8V653.05"/>
<rect x="382.7" y="586.6" width="7.79" height="27.2" fill="#00CED1"/>
<path d="M382.7 598.72H390.49" stroke="#2a2a2a" stroke-width="1.6"/>
<circle cx="394.39" cy="546.19" r="1.6"/>
<circle cx="394.39" cy="547.35" r="1.6"/>
<circle cx="394.39" cy="548.52" r="1.6"/>
<circle cx="394.39" cy="554.42" r="1.6"/>
<circle cx="394.39" cy="555.75" r="1.6"/>
<circle cx="394.39" cy="557.07" r="1.6"/>
<circle cx="394.39" cy="640.62" r="1.6"/>
<circle cx="394.39" cy="641.78" r="1.6"/>
<circle cx="394.39" cy="642.95" r="1.6"/>
<path d="M394.39 560.18V585.82M394.39 603.38V631.29"/>
<rect x="390.49" y="585.82" width="7.79" height="17.56" fill="#008B00"/>
<path d="M390.49 593.59H398.28" stroke="#2a2a2a" stroke-width="1.6"/>
<circle cx="402.18" cy="533.75" r="1.6"/>
<circle cx="402.18" cy="541.52" r="1.6"/>
<circle cx="402.18" cy="550.07" r="1.6"/>
<circle cx="402.18" cy="551.52" r="1.6"/>
<circle cx="402.18" cy="552.97" r="1.6"/>
<circle cx="402.18" cy="554.42" r="1.6"/>
<circle cx="402.18" cy="630.98" r="1.6"/>
<circle cx="402.18" cy="634.86" r="1.6"/>
<path d="M402.18 556.29V583.18M402.18 601.67V628.96"/>
<rect x="398.28" y="583.18" width="7.79" height="18.5" fill="#DC6246"/>
<path d="M398.28 591.26H406.08" stroke="#2a2a2a" stroke-width="1.6"/>
<circle cx="409.97" cy="542.3" r="1.6"/>
<circle cx="409.97" cy="545.88" r="1.6"/>
<circle cx="409.97" cy="624.61" r="1.6"/>
<circle cx="409.97" cy="627.87" r="1.6"/>
<path d="M409.97 548.52V576.81M409.97 596.23V622.74"/>
<rect x="406.08" y="576.81" width="7.79" height="19.43" fill="#6CA6CD"/>
<path d="M406.08 586.13H413.87" stroke="#2a2a2a" stroke-width="1.6"/>
<circle cx="417.76" cy="547.74" r="1.6"/>
<circle cx="417.76" cy="630.05" r="1.6"/>
<circle cx="417.76" cy="631.76" r="1.6"/>
<path d="M417.76 550.07V580.38M417.76 599.34V628.18"/>
<rect x="413.87" y="580.38" width="7.79" height="18.96" fill="#FF34B3"/>
<path d="M413.87 587.84H421.66" stroke="#2a2a2a" stroke-width="1.6"/>
<circle cx="425.55" cy="526.76" r="1.6"/>
<circle cx="425.55" cy="529.87" r="1.6"/>
<circle cx="425.55" cy="536.08" r="1.6"/>
<circle cx="425.55" cy="620.1" r="1.6"/>
<path d="M425.55 538.42V566.86M425.55 585.51V614.97"/>
<rect x="421.66" y="566.86" width="7.79" height="18.65" fill="#483D8B"/>
<path d="M421.66 576.18H429.45" stroke="#2a2a2a" stroke-width="1.6"/>
<circle cx="433.35" cy="533.75" r="1.6"/>
<circle cx="433.35" cy="537.33" r="1.6"/>
<circle cx="433.35" cy="538.42" r="1.6"/>
<circle cx="433.35" cy="539.5" r="1.6"/>
<circle cx="433.35" cy="616.84" r="1.6"/>
<path d="M433.35 540.75V568.26M433.35 586.29V614.19"/>
<rect x="429.45" y="568.26" width="7.79" height="18.03" fill="#8B4789"/>
<path d="M429.45 576.18H437.24" stroke="#2a2a2a" stroke-width="1.6"/>
<circle cx="441.14" cy="546.65" r="1.6"/>
<circle cx="441.14" cy="550.07" r="1.6"/>
<circle cx="441.14" cy="551.24" r="1.6"/>
<circle cx="441.14" cy="552.4" r="1.6"/>
<circle cx="441.14" cy="628.96" r="1.6"/>
<circle cx="441.14" cy="630.32" r="1.6"/>
<circle cx="441.14" cy="631.68" r="1.6"/>
<circle cx="441.14" cy="633.04" r="1.6"/>
<circle cx="441.14" cy="634.4" r="1.6"/>
<circle cx="441.14" cy="635.76" r="1.6"/>
<circle cx="441.14" cy="637.12" r="1.6"/>
<circle cx="441.14" cy="638.48" r="1.6"/>
<circle cx="441.14" cy="639.84" r="1.6"/>
<path d="M441.14 554.74V582.4M441.14 599.81V627.4"/>
<rect x="437.24" y="582.4" width="7.79" height="17.41" fill="#FF69B4"/>
<path d="M437.24 590.48H445.03" stroke="#2a2a2a" stroke-width="1.6"/>
<circle cx="448.93" cy="557.07" r="1.6"/>
<circle cx="448.93" cy="641.39" r="1.6"/>
<circle cx="448.93" cy="642.79" r="1.6"/>
<circle cx="448.93" cy="644.19" r="1.6"/>
<circle cx="448.93" cy="645.59" r="1.6"/>
<circle cx="448.93" cy="646.99" r="1.6"/>
<circle cx="448.93" cy="648.39" r="1.6"/>
<circle cx="448.93" cy="652.27" r="1.6"/>
<path d="M448.93 559.4V590.17M448.93 610.38V637.51"/>
<rect x="445.03" y="590.17" width="7.79" height="20.21" fill="#8470FF"/>
<path d="M445.03 599.03H452.82" stroke="#2a2a2a" stroke-width="1.6"/>
<circle cx="456.72" cy="515.88" r="1.6"/>
<circle cx="456.72" cy="528.31" r="1.6"/>
<circle cx="456.72" cy="533.75" r="1.6"/>
<circle cx="456.72" cy="535.19" r="1.6"/>
<circle cx="456.72" cy="536.63" r="1.6"/>
<circle cx="456.72" cy="538.07" r="1.6"/>
<circle cx="456.72" cy="539.5" r="1.6"/>
<circle cx="456.72" cy="598.96" r="1.6"/>
<circle cx="456.72" cy="599.97" r="1.6"/>
<circle cx="456.72" cy="600.98" r="1.6"/>
<circle cx="456.72" cy="605.33" r="1.6"/>
<circle cx="456.72" cy="613.11" r="1.6"/>
<path d="M456.72 541.52V562.2M456.72 576.5V597.1"/>
<rect x="452.82" y="562.2" width="7.79" height="14.3" fill="#A020F0"/>
<path d="M452.82 568.41H460.62" stroke="#2a2a2a" stroke-width="1.6"/>
<circle cx="464.51" cy="539.19" r="1.6"/>
<circle cx="464.51" cy="625.07" r="1.6"/>
<path d="M464.51 548.52V575.72M464.51 594.37V623.52"/>
<rect x="460.62" y="575.72" width="7.79" height="18.65" fill="#8B8B00"/>
<path d="M460.62 584.73H468.41" stroke="#2a2a2a" stroke-width="1.6"/>
<circle cx="472.3" cy="541.52" r="1.6"/>
<circle cx="472.3" cy="545.88" r="1.6"/>
<circle cx="472.3" cy="547.04" r="1.6"/>
<circle cx="472.3" cy="548.21" r="1.6"/>
<circle cx="472.3" cy="625.07" r="1.6"/>
<circle cx="472.3" cy="626.37" r="1.6"/>
<circle cx="472.3" cy="627.66" r="1.6"/>
<circle cx="472.3" cy="628.96" r="1.6"/>
<circle cx="472.3" cy="633.62" r="1.6"/>
<path d="M472.3 550.85V578.52M472.3 597.01V622.74"/>
<rect x="468.41" y="578.52" width="7.79" height="18.5" fill="#C8C8C8"/>
<path d="M468.41 586.29H476.2" stroke="#2a2a2a" stroke-width="1.6"/>
<circle cx="480.09" cy="542.3" r="1.6"/>
<circle cx="480.09" cy="543.55" r="1.6"/>
<circle cx="480.09" cy="544.79" r="1.6"/>
<circle cx="480.09" cy="546.03" r="1.6"/>
<circle cx="480.09" cy="547.28" r="1.6"/>
<circle cx="480.09" cy="548.52" r="1.6"/>
<circle cx="480.09" cy="629.74" r="1.6"/>
<circle cx="480.09" cy="633.31" r="1.6"/>
<circle cx="480.09" cy="637.51" r="1.6"/>
<path d="M480.09 550.85V579.29M480.09 598.57V627.4"/>
<rect x="476.2" y="579.29" width="7.79" height="19.27" fill="#DD8F43"/>
<path d="M476.2 588.46H483.99" stroke="#2a2a2a" stroke-width="1.6"/>
<circle cx="524.46" cy="539.09" r="1.6"/>
<circle cx="524.46" cy="547.33" r="1.6"/>
<circle cx="524.46" cy="622.64" r="1.6"/>
<circle cx="524.46" cy="623.8" r="1.6"/>
<circle cx="524.46" cy="624.97" r="1.6"/>
<circle cx="524.46" cy="626.14" r="1.6"/>
<circle cx="524.46" cy="627.3" r="1.6"/>
<circle cx="524.46" cy="634.3" r="1.6"/>
<path d="M524.46 550.75V576.08M524.46 594.58V617.98"/>
<rect x="520.56" y="576.08" width="7.79" height="18.5" fill="#FFA500"/>
<path d="M520.56 585.41H528.35" stroke="#2a2a2a" stroke-width="1.6"/>
<circle cx="532.25" cy="539.87" r="1.6"/>
<circle cx="532.25" cy="549.97" r="1.6"/>
<circle cx="532.25" cy="551.14" r="1.6"/>
<circle cx="532.25" cy="552.3" r="1.6"/>
<circle cx="532.25" cy="660.72" r="1.6"/>
<circle cx="532.25" cy="662.27" r="1.6"/>
<circle cx="532.25" cy="667.71" r="1.6"/>
<path d="M532.25 554.63V593.96M532.25 621V658.39"/>
<rect x="528.35" y="593.96" width="7.79" height="27.04" fill="#00CED1"/>
<path d="M528.35 607.48H536.14" stroke="#2a2a2a" stroke-width="1.6"/>
<circle cx="540.04" cy="539.09" r="1.6"/>
<circle cx="540.04" cy="545" r="1.6"/>
<circle cx="540.04" cy="623.42" r="1.6"/>
<circle cx="540.04" cy="624.71" r="1.6"/>
<circle cx="540.04" cy="626.01" r="1.6"/>
<circle cx="540.04" cy="627.3" r="1.6"/>
<circle cx="540.04" cy="628.6" r="1.6"/>
<circle cx="540.04" cy="629.89" r="1.6"/>
<circle cx="540.04" cy="631.19" r="1.6"/>
<circle cx="540.04" cy="638.96" r="1.6"/>
<path d="M540.04 546.86V576.08M540.04 594.58V618.75"/>
<rect x="536.14" y="576.08" width="7.79" height="18.5" fill="#008B00"/>
<path d="M536.14 583.85H543.93" stroke="#2a2a2a" stroke-width="1.6"/>
<circle cx="547.83" cy="544.22" r="1.6"/>
<circle cx="547.83" cy="545.39" r="1.6"/>
<circle cx="547.83" cy="546.55" r="1.6"/>
<circle cx="547.83" cy="547.72" r="1.6"/>
<circle cx="547.83" cy="548.88" r="1.6"/>
<circle cx="547.83" cy="619.84" r="1.6"/>
<circle cx="547.83" cy="621.24" r="1.6"/>
<circle cx="547.83" cy="622.64" r="1.6"/>
<circle cx="547.83" cy="624.04" r="1.6"/>
<circle cx="547.83" cy="625.44" r="1.6"/>
<path d="M547.83 550.75V576.08M547.83 593.8V618.75"/>
<rect x="543.93" y="576.08" width="7.79" height="17.72" fill="#DC6246"/>
<path d="M543.93 585.41H551.73" stroke="#2a2a2a" stroke-width="1.6"/>
<circle cx="555.62" cy="531.79" r="1.6"/>
<circle cx="555.62" cy="542.98" r="1.6"/>
<circle cx="555.62" cy="544.27" r="1.6"/>
<circle cx="555.62" cy="545.57" r="1.6"/>
<circle cx="555.62" cy="546.86" r="1.6"/>
<circle cx="555.62" cy="623.42" r="1.6"/>
<circle cx="555.62" cy="624.74" r="1.6"/>
<circle cx="555.62" cy="626.06" r="1.6"/>
<path d="M555.62 550.75V576.39M555.62 594.27V620.31"/>
<rect x="551.73" y="576.39" width="7.79" height="17.87" fill="#6CA6CD"/>
<path d="M551.73 584.63H559.52" stroke="#2a2a2a" stroke-width="1.6"/>
<circle cx="563.41" cy="540.65" r="1.6"/>
<circle cx="563.41" cy="542" r="1.6"/>
<circle cx="563.41" cy="543.36" r="1.6"/>
<circle cx="563.41" cy="544.72" r="1.6"/>
<circle cx="563.41" cy="546.08" r="1.6"/>
<circle cx="563.41" cy="622.64" r="1.6"/>
<circle cx="563.41" cy="626.06" r="1.6"/>
<path d="M563.41 548.42V575.3M563.41 593.8V618.75"/>
<rect x="559.52" y="575.3" width="7.79" height="18.5" fill="#FF34B3"/>
<path d="M559.52 585.41H567.31" stroke="#2a2a2a" stroke-width="1.6"/>
<circle cx="571.2" cy="553.86" r="1.6"/>
<circle cx="571.2" cy="555.04" r="1.6"/>
<circle cx="571.2" cy="556.22" r="1.6"/>
<circle cx="571.2" cy="557.4" r="1.6"/>
<circle cx="571.2" cy="558.58" r="1.6"/>
<circle cx="571.2" cy="559.76" r="1.6"/>
<circle cx="571.2" cy="641.29" r="1.6"/>
<circle cx="571.2" cy="642.84" r="1.6"/>
<circle cx="571.2" cy="644.4" r="1.6"/>
<path d="M571.2 564.74V591.62M571.2 610.9V635.85"/>
<rect x="567.31" y="591.62" width="7.79" height="19.27" fill="#483D8B"/>
<path d="M567.31 601.26H575.1" stroke="#2a2a2a" stroke-width="1.6"/>
<circle cx="579" cy="561.32" r="1.6"/>
<circle cx="579" cy="642.84" r="1.6"/>
<circle cx="579" cy="644.2" r="1.6"/>
<circle cx="579" cy="645.56" r="1.6"/>
<circle cx="579" cy="646.92" r="1.6"/>
<circle cx="579" cy="648.28" r="1.6"/>
<path d="M579 563.18V592.25M579 611.36V638.96"/>
<rect x="575.1" y="592.25" width="7.79" height="19.12" fill="#8B4789"/>
<path d="M575.1 600.95H582.89" stroke="#2a2a2a" stroke-width="1.6"/>
<circle cx="586.79" cy="539.4" r="1.6"/>
<circle cx="586.79" cy="543.44" r="1.6"/>
<circle cx="586.79" cy="548.88" r="1.6"/>
<circle cx="586.79" cy="623.73" r="1.6"/>
<circle cx="586.79" cy="629.17" r="1.6"/>
<circle cx="586.79" cy="630.57" r="1.6"/>
<circle cx="586.79" cy="631.96" r="1.6"/>
<path d="M586.79 550.75V576.08M586.79 594.27V619.53"/>
<rect x="582.89" y="576.08" width="7.79" height="18.18" fill="#FF69B4"/>
<path d="M582.89 585.41H590.68" stroke="#2a2a2a" stroke-width="1.6"/>
<circle cx="594.58" cy="542.2" r="1.6"/>
<circle cx="594.58" cy="543.52" r="1.6"/>
<circle cx="594.58" cy="544.84" r="1.6"/>
<circle cx="594.58" cy="618.44" r="1.6"/>
<circle cx="594.58" cy="619.75" r="1.6"/>
<circle cx="594.58" cy="621.05" r="1.6"/>
<circle cx="594.58" cy="622.36" r="1.6"/>
<circle cx="594.58" cy="623.66" r="1.6"/>
<circle cx="594.58" cy="624.97" r="1.6"/>
<path d="M594.58 546.86V573.75M594.58 591.16V615.65"/>
<rect x="590.68" y="573.75" width="7.79" height="17.41" fill="#8470FF"/>
<path d="M590.68 582.61H598.47" stroke="#2a2a2a" stroke-width="1.6"/>
<circle cx="602.37" cy="593.96" r="1.6"/>
<circle cx="602.37" cy="682.48" r="1.6"/>
<circle cx="602.37" cy="683.64" r="1.6"/>
<circle cx="602.37" cy="684.81" r="1.6"/>
<circle cx="602.37" cy="685.97" r="1.6"/>
<circle cx="602.37" cy="687.14" r="1.6"/>
<path d="M602.37 595.82V628.85M602.37 649.83V679.37"/>
<rect x="598.47" y="628.85" width="7.79" height="20.98" fill="#A020F0"/>
<path d="M598.47 639.42H606.27" stroke="#2a2a2a" stroke-width="1.6"/>
<circle cx="610.16" cy="539.09" r="1.6"/>
<circle cx="610.16" cy="546.86" r="1.6"/>
<circle cx="610.16" cy="548.18" r="1.6"/>
<circle cx="610.16" cy="549.5" r="1.6"/>
<circle cx="610.16" cy="633.52" r="1.6"/>
<circle cx="610.16" cy="638.49" r="1.6"/>
<circle cx="610.16" cy="639.5" r="1.6"/>
<circle cx="610.16" cy="640.51" r="1.6"/>
<path d="M610.16 550.75V580.28M610.16 599.4V628.08"/>
<rect x="606.27" y="580.28" width="7.79" height="19.12" fill="#8B8B00"/>
<path d="M606.27 589.29H614.06" stroke="#2a2a2a" stroke-width="1.6"/>
<circle cx="617.95" cy="543.75" r="1.6"/>
<circle cx="617.95" cy="545.31" r="1.6"/>
<circle cx="617.95" cy="546.86" r="1.6"/>
<circle cx="617.95" cy="622.33" r="1.6"/>
<circle cx="617.95" cy="623.88" r="1.6"/>
<path d="M617.95 550.75V576.7M617.95 594.27V617.98"/>
<rect x="614.06" y="576.7" width="7.79" height="17.56" fill="#C8C8C8"/>
<path d="M614.06 585.41H621.85" stroke="#2a2a2a" stroke-width="1.6"/>
<circle cx="625.74" cy="539.87" r="1.6"/>
<circle cx="625.74" cy="541.23" r="1.6"/>
<circle cx="625.74" cy="542.59" r="1.6"/>
<circle cx="625.74" cy="543.95" r="1.6"/>
<circle cx="625.74" cy="545.31" r="1.6"/>
<circle cx="625.74" cy="621.86" r="1.6"/>
<circle cx="625.74" cy="623.2" r="1.6"/>
<circle cx="625.74" cy="624.54" r="1.6"/>
<circle cx="625.74" cy="625.87" r="1.6"/>
<circle cx="625.74" cy="627.21" r="1.6"/>
<circle cx="625.74" cy="628.55" r="1.6"/>
<path d="M625.74 548.42V575.62M625.74 593.8V619.53"/>
<rect x="621.85" y="575.62" width="7.79" height="18.18" fill="#DD8F43"/>
<path d="M621.85 583.39H629.64" stroke="#2a2a2a" stroke-width="1.6"/>
</g>
<g id="zero" stroke="#333" stroke-width="1.15">
<path d="M51.15 79.1H662"/>
<path d="M51.15 345.1H662"/>
<path d="M51.15 585.8H662"/>
</g>
<g id="legend">
<text transform="translate(674.3 255.1) scale(0.918 1)" class="lt">Method</text>
<rect x="674.9" y="260.11" width="17.28" height="17.28" fill="#f2f2f2"/>
<g stroke="#333" stroke-width="0.95">
<path d="M683.54 261.84V264.43M683.54 273.07V275.66"/>
<rect x="676.63" y="264.43" width="13.82" height="8.64" fill="#FFA500"/>
<path d="M676.63 268.75H690.45"/>
</g>
<text transform="translate(694.2 273.85) scale(0.94 1)" class="lg">Complete data</text>
<rect x="674.9" y="278.1" width="17.28" height="17.28" fill="#f2f2f2"/>
<g stroke="#333" stroke-width="0.95">
<path d="M683.54 279.83V282.42M683.54 291.06V293.65"/>
<rect x="676.63" y="282.42" width="13.82" height="8.64" fill="#00CED1"/>
<path d="M676.63 286.74H690.45"/>
</g>
<text transform="translate(694.2 291.84) scale(0.94 1)" class="lg">Available data</text>
<rect x="674.9" y="296.09" width="17.28" height="17.28" fill="#f2f2f2"/>
<g stroke="#333" stroke-width="0.95">
<path d="M683.54 297.82V300.41M683.54 309.05V311.64"/>
<rect x="676.63" y="300.41" width="13.82" height="8.64" fill="#008B00"/>
<path d="M676.63 304.73H690.45"/>
</g>
<text transform="translate(694.2 309.83) scale(0.94 1)" class="lg">JM-MVN</text>
<rect x="674.9" y="314.08" width="17.28" height="17.28" fill="#f2f2f2"/>
<g stroke="#333" stroke-width="0.95">
<path d="M683.54 315.81V318.4M683.54 327.04V329.63"/>
<rect x="676.63" y="318.4" width="13.82" height="8.64" fill="#DC6246"/>
<path d="M676.63 322.72H690.45"/>
</g>
<text transform="translate(694.2 327.82) scale(0.94 1)" class="lg">JM-MLMM</text>
<rect x="674.9" y="332.07" width="17.28" height="17.28" fill="#f2f2f2"/>
<g stroke="#333" stroke-width="0.95">
<path d="M683.54 333.8V336.39M683.54 345.03V347.62"/>
<rect x="676.63" y="336.39" width="13.82" height="8.64" fill="#6CA6CD"/>
<path d="M676.63 340.71H690.45"/>
</g>
<text transform="translate(694.2 345.81) scale(0.94 1)" class="lg">JM-MLMM-LN</text>
<rect x="674.9" y="350.06" width="17.28" height="17.28" fill="#f2f2f2"/>
<g stroke="#333" stroke-width="0.95">
<path d="M683.54 351.79V354.38M683.54 363.02V365.61"/>
<rect x="676.63" y="354.38" width="13.82" height="8.64" fill="#FF34B3"/>
<path d="M676.63 358.7H690.45"/>
</g>
<text transform="translate(694.2 363.8) scale(0.94 1)" class="lg">FCS-Standard</text>
<rect x="674.9" y="368.05" width="17.28" height="17.28" fill="#f2f2f2"/>
<g stroke="#333" stroke-width="0.95">
<path d="M683.54 369.78V372.37M683.54 381.01V383.6"/>
<rect x="676.63" y="372.37" width="13.82" height="8.64" fill="#483D8B"/>
<path d="M676.63 376.69H690.45"/>
</g>
<text transform="translate(694.2 381.79) scale(0.94 1)" class="lg">FCS-Twofold</text>
<rect x="674.9" y="386.04" width="17.28" height="17.28" fill="#f2f2f2"/>
<g stroke="#333" stroke-width="0.95">
<path d="M683.54 387.77V390.36M683.54 399V401.59"/>
<rect x="676.63" y="390.36" width="13.82" height="8.64" fill="#8B4789"/>
<path d="M676.63 394.68H690.45"/>
</g>
<text transform="translate(694.2 399.78) scale(0.94 1)" class="lg">FCS-MTW</text>
<rect x="674.9" y="404.03" width="17.28" height="17.28" fill="#f2f2f2"/>
<g stroke="#333" stroke-width="0.95">
<path d="M683.54 405.76V408.35M683.54 416.99V419.58"/>
<rect x="676.63" y="408.35" width="13.82" height="8.64" fill="#FF69B4"/>
<path d="M676.63 412.67H690.45"/>
</g>
<text transform="translate(694.2 417.77) scale(0.94 1)" class="lg">FCS-LMM</text>
<rect x="674.9" y="422.02" width="17.28" height="17.28" fill="#f2f2f2"/>
<g stroke="#333" stroke-width="0.95">
<path d="M683.54 423.75V426.34M683.54 434.98V437.57"/>
<rect x="676.63" y="426.34" width="13.82" height="8.64" fill="#8470FF"/>
<path d="M676.63 430.66H690.45"/>
</g>
<text transform="translate(694.2 435.76) scale(0.94 1)" class="lg">FCS-LMM-het</text>
<rect x="674.9" y="440.01" width="17.28" height="17.28" fill="#f2f2f2"/>
<g stroke="#333" stroke-width="0.95">
<path d="M683.54 441.74V444.33M683.54 452.97V455.56"/>
<rect x="676.63" y="444.33" width="13.82" height="8.64" fill="#A020F0"/>
<path d="M676.63 448.65H690.45"/>
</g>
<text transform="translate(694.2 453.75) scale(0.94 1)" class="lg">FCS-GLMM</text>
<rect x="674.9" y="458" width="17.28" height="17.28" fill="#f2f2f2"/>
<g stroke="#333" stroke-width="0.95">
<path d="M683.54 459.73V462.32M683.54 470.96V473.55"/>
<rect x="676.63" y="462.32" width="13.82" height="8.64" fill="#8B8B00"/>
<path d="M676.63 466.64H690.45"/>
</g>
<text transform="translate(694.2 471.74) scale(0.94 1)" class="lg">FCS-MLMM-LN</text>
<rect x="674.9" y="475.99" width="17.28" height="17.28" fill="#f2f2f2"/>
<g stroke="#333" stroke-width="0.95">
<path d="M683.54 477.72V480.31M683.54 488.95V491.54"/>
<rect x="676.63" y="480.31" width="13.82" height="8.64" fill="#C8C8C8"/>
<path d="M676.63 484.63H690.45"/>
</g>
<text transform="translate(694.2 489.73) scale(0.94 1)" class="lg">FCS-LMM-LN</text>
<rect x="674.9" y="493.98" width="17.28" height="17.28" fill="#f2f2f2"/>
<g stroke="#333" stroke-width="0.95">
<path d="M683.54 495.71V498.3M683.54 506.94V509.53"/>
<rect x="676.63" y="498.3" width="13.82" height="8.64" fill="#DD8F43"/>
<path d="M676.63 502.62H690.45"/>
</g>
<text transform="translate(694.2 507.72) scale(0.94 1)" class="lg">FCS-LMM-PMM</text>
</g>
</svg>
</body></html>
